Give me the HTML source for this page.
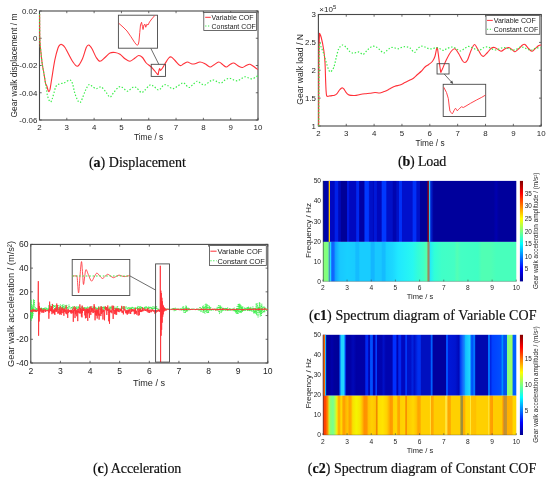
<!DOCTYPE html>
<html lang="en"><head><meta charset="utf-8"><title>Gear walk figure</title>
<style>html,body{margin:0;padding:0;background:#fff;overflow:hidden}svg{display:block}</style></head>
<body>
<svg width="550" height="480" viewBox="0 0 550 480">
<rect width="550" height="480" fill="#fff"/>
<rect x="39.5" y="11" width="218.5" height="109" fill="none" stroke="#484848" stroke-width="1.1"/>
<path d="M39.50,120v-2.2M39.50,11v2.2M66.81,120v-2.2M66.81,11v2.2M94.12,120v-2.2M94.12,11v2.2M121.44,120v-2.2M121.44,11v2.2M148.75,120v-2.2M148.75,11v2.2M176.06,120v-2.2M176.06,11v2.2M203.38,120v-2.2M203.38,11v2.2M230.69,120v-2.2M230.69,11v2.2M258.00,120v-2.2M258.00,11v2.2M39.5,11.00h2.2M258,11.00h-2.2M39.5,38.25h2.2M258,38.25h-2.2M39.5,65.50h2.2M258,65.50h-2.2M39.5,92.75h2.2M258,92.75h-2.2M39.5,120.00h2.2M258,120.00h-2.2" stroke="#484848" stroke-width="0.8" fill="none"/>
<path d="M39.60,14.00C39.62,16.67 39.65,25.43 39.70,30.00C39.75,34.57 39.68,37.57 39.90,41.40C40.12,45.23 40.60,49.18 41.00,53.00C41.40,56.82 41.80,60.80 42.30,64.30C42.80,67.80 43.47,70.88 44.00,74.00C44.53,77.12 45.12,81.17 45.50,83.00C45.88,84.83 46.07,84.47 46.30,85.00C46.53,85.53 46.62,85.37 46.90,86.20C47.18,87.03 47.65,89.10 48.00,90.00C48.35,90.90 48.67,91.68 49.00,91.60C49.33,91.52 49.55,91.60 50.00,89.50C50.45,87.40 50.90,83.88 51.70,79.00C52.50,74.12 53.75,65.37 54.80,60.20C55.85,55.03 57.10,50.58 58.00,48.00C58.90,45.42 59.58,45.28 60.20,44.70C60.82,44.12 60.90,44.03 61.70,44.50C62.50,44.97 63.20,44.71 65.00,47.50C66.80,50.29 70.42,58.12 72.50,61.25C74.58,64.38 75.83,66.67 77.50,66.25C79.17,65.83 81.04,61.88 82.50,58.75C83.96,55.62 85.21,49.79 86.25,47.50C87.29,45.21 87.79,44.79 88.75,45.00C89.71,45.21 90.75,46.67 92.00,48.75C93.25,50.83 94.92,55.42 96.25,57.50C97.58,59.58 98.54,61.25 100.00,61.25C101.46,61.25 103.33,58.88 105.00,57.50C106.67,56.12 108.33,53.83 110.00,53.00C111.67,52.17 113.33,52.29 115.00,52.50C116.67,52.71 118.33,53.21 120.00,54.25C121.67,55.29 123.33,57.58 125.00,58.75C126.67,59.92 128.33,61.38 130.00,61.25C131.67,61.12 133.54,58.96 135.00,58.00C136.46,57.04 137.50,55.58 138.75,55.50C140.00,55.42 141.25,56.25 142.50,57.50C143.75,58.75 144.79,61.42 146.25,63.00C147.71,64.58 149.79,65.62 151.25,67.00C152.71,68.38 153.88,69.92 155.00,71.25C156.12,72.58 157.50,74.38 158.00,75.00" fill="none" stroke="#ff3038" stroke-width="1.1" stroke-linejoin="round"/>
<path d="M158.00,75.00C158.25,73.96 159.08,69.50 159.50,68.75C159.92,68.00 160.00,70.62 160.50,70.50C161.00,70.38 161.75,69.12 162.50,68.00C163.25,66.88 163.96,65.42 165.00,63.75C166.04,62.08 167.71,59.12 168.75,58.00C169.79,56.88 170.21,56.58 171.25,57.00C172.29,57.42 173.54,59.08 175.00,60.50C176.46,61.92 178.54,64.96 180.00,65.50C181.46,66.04 182.50,64.33 183.75,63.75C185.00,63.17 186.25,62.00 187.50,62.00C188.75,62.00 190.00,63.46 191.25,63.75C192.50,64.04 193.54,64.04 195.00,63.75C196.46,63.46 198.33,62.00 200.00,62.00C201.67,62.00 203.33,62.92 205.00,63.75C206.67,64.58 208.54,66.79 210.00,67.00C211.46,67.21 212.29,65.83 213.75,65.00C215.21,64.17 217.29,62.08 218.75,62.00C220.21,61.92 221.25,63.67 222.50,64.50C223.75,65.33 225.00,67.00 226.25,67.00C227.50,67.00 228.75,65.17 230.00,64.50C231.25,63.83 232.29,62.71 233.75,63.00C235.21,63.29 237.29,65.50 238.75,66.25C240.21,67.00 241.25,67.62 242.50,67.50C243.75,67.38 245.00,66.04 246.25,65.50C247.50,64.96 248.54,63.92 250.00,64.25C251.46,64.58 253.70,66.62 255.00,67.50C256.30,68.38 257.33,69.17 257.80,69.50" fill="none" stroke="#ff3038" stroke-width="1.1" stroke-linejoin="round"/>
<path d="M39.60,14.00C39.62,16.67 39.65,25.43 39.70,30.00C39.75,34.57 39.68,37.57 39.90,41.40C40.12,45.23 40.60,49.18 41.00,53.00C41.40,56.82 41.80,60.80 42.30,64.30C42.80,67.80 43.47,70.88 44.00,74.00C44.53,77.12 45.08,80.42 45.50,83.00C45.92,85.58 46.17,87.40 46.50,89.50C46.83,91.60 47.05,93.77 47.50,95.60C47.95,97.43 48.67,99.45 49.20,100.50C49.73,101.55 50.20,102.15 50.70,101.90C51.20,101.65 51.68,100.40 52.20,99.00C52.72,97.60 53.18,95.58 53.80,93.50C54.42,91.42 55.03,88.07 55.90,86.50C56.77,84.93 57.78,84.67 59.00,84.10C60.22,83.53 62.20,83.37 63.20,83.10C64.20,82.83 63.87,83.02 65.00,82.50C66.13,81.98 68.75,79.83 70.00,80.00C71.25,80.17 71.75,81.50 72.50,83.50C73.25,85.50 73.75,89.42 74.50,92.00C75.25,94.58 76.32,97.37 77.00,99.00C77.68,100.63 78.10,101.22 78.60,101.80C79.10,102.38 79.52,102.72 80.00,102.50C80.48,102.28 80.67,102.33 81.50,100.50C82.33,98.67 84.00,93.83 85.00,91.50C86.00,89.17 86.75,87.67 87.50,86.50C88.25,85.33 88.67,84.50 89.50,84.50C90.33,84.50 91.38,85.79 92.50,86.50C93.62,87.21 94.79,88.67 96.25,88.75C97.71,88.83 99.58,86.38 101.25,87.00C102.92,87.62 104.79,90.83 106.25,92.50C107.71,94.17 108.75,97.00 110.00,97.00C111.25,97.00 112.29,94.17 113.75,92.50C115.21,90.83 117.29,87.83 118.75,87.00C120.21,86.17 121.04,86.79 122.50,87.50C123.96,88.21 125.83,91.25 127.50,91.25C129.17,91.25 131.04,88.12 132.50,87.50C133.96,86.88 134.79,86.67 136.25,87.50C137.71,88.33 139.79,92.08 141.25,92.50C142.71,92.92 143.54,91.25 145.00,90.00C146.46,88.75 148.54,85.62 150.00,85.00C151.46,84.38 152.29,85.42 153.75,86.25C155.21,87.08 157.08,90.21 158.75,90.00C160.42,89.79 162.29,85.75 163.75,85.00C165.21,84.25 166.04,84.88 167.50,85.50C168.96,86.12 170.83,88.62 172.50,88.75C174.17,88.88 175.83,87.21 177.50,86.25C179.17,85.29 181.25,83.42 182.50,83.00C183.75,82.58 183.96,83.00 185.00,83.75C186.04,84.50 187.50,87.29 188.75,87.50C190.00,87.71 191.12,86.04 192.50,85.00C193.88,83.96 195.54,81.46 197.00,81.25C198.46,81.04 199.92,83.12 201.25,83.75C202.58,84.38 203.54,85.42 205.00,85.00C206.46,84.58 208.54,82.08 210.00,81.25C211.46,80.42 212.50,79.88 213.75,80.00C215.00,80.12 216.25,81.50 217.50,82.00C218.75,82.50 220.00,83.33 221.25,83.00C222.50,82.67 223.62,80.79 225.00,80.00C226.38,79.21 228.04,78.25 229.50,78.25C230.96,78.25 232.42,79.58 233.75,80.00C235.08,80.42 236.25,80.96 237.50,80.75C238.75,80.54 240.00,79.42 241.25,78.75C242.50,78.08 243.75,76.88 245.00,76.75C246.25,76.62 247.50,77.67 248.75,78.00C250.00,78.33 251.25,78.96 252.50,78.75C253.75,78.54 255.37,77.29 256.25,76.75C257.13,76.21 257.54,75.71 257.80,75.50" fill="none" stroke="#38ee48" stroke-width="1.2" stroke-dasharray="1.4,1.8"/>
<rect x="151.2" y="64.3" width="14.3" height="12.1" fill="none" stroke="#484848" stroke-width="0.9"/>
<line x1="150.8" y1="48.3" x2="158.8" y2="64.3" stroke="#484848" stroke-width="0.8"/>
<rect x="118.4" y="15.2" width="39.1" height="33" fill="#fff" stroke="#484848" stroke-width="0.9"/>
<polyline points="118.80,23.30 123.00,27.00 127.00,31.00 131.00,36.80 134.50,42.25 136.30,44.60 137.50,45.25 138.40,44.00 139.00,41.00 139.75,32.50 140.50,25.00 141.55,22.30 142.45,26.50 143.05,29.50 143.95,25.00 145.00,24.25 145.75,27.25 146.80,24.25 148.00,25.00 149.50,22.00 151.75,19.00 154.75,15.50" fill="none" stroke="#ff3038" stroke-width="0.9" stroke-linejoin="round"/>
<rect x="203.8" y="12.4" width="52.60" height="18.10" fill="#fff" stroke="#484848" stroke-width="0.8"/>
<line x1="205.2" y1="17.3" x2="210.8" y2="17.3" stroke="#ff3038" stroke-width="1"/>
<line x1="205.2" y1="26.0" x2="210.8" y2="26.0" stroke="#38ee48" stroke-width="1.1" stroke-dasharray="1.2,1.6"/>
<text x="211.60" y="19.93" font-family='"Liberation Sans", Arial, sans-serif' font-size="7.1" text-anchor="start" fill="#202020" textLength="42" lengthAdjust="spacingAndGlyphs">Variable COF</text>
<text x="211.60" y="28.63" font-family='"Liberation Sans", Arial, sans-serif' font-size="7.1" text-anchor="start" fill="#202020" textLength="44.2" lengthAdjust="spacingAndGlyphs">Constant COF</text>
<text x="39.50" y="130.10" font-family='"Liberation Sans", Arial, sans-serif' font-size="7.9" text-anchor="middle" fill="#262626" >2</text>
<text x="66.81" y="130.10" font-family='"Liberation Sans", Arial, sans-serif' font-size="7.9" text-anchor="middle" fill="#262626" >3</text>
<text x="94.12" y="130.10" font-family='"Liberation Sans", Arial, sans-serif' font-size="7.9" text-anchor="middle" fill="#262626" >4</text>
<text x="121.44" y="130.10" font-family='"Liberation Sans", Arial, sans-serif' font-size="7.9" text-anchor="middle" fill="#262626" >5</text>
<text x="148.75" y="130.10" font-family='"Liberation Sans", Arial, sans-serif' font-size="7.9" text-anchor="middle" fill="#262626" >6</text>
<text x="176.06" y="130.10" font-family='"Liberation Sans", Arial, sans-serif' font-size="7.9" text-anchor="middle" fill="#262626" >7</text>
<text x="203.38" y="130.10" font-family='"Liberation Sans", Arial, sans-serif' font-size="7.9" text-anchor="middle" fill="#262626" >8</text>
<text x="230.69" y="130.10" font-family='"Liberation Sans", Arial, sans-serif' font-size="7.9" text-anchor="middle" fill="#262626" >9</text>
<text x="258.00" y="130.10" font-family='"Liberation Sans", Arial, sans-serif' font-size="7.9" text-anchor="middle" fill="#262626" >10</text>
<text x="37.30" y="13.80" font-family='"Liberation Sans", Arial, sans-serif' font-size="7.9" text-anchor="end" fill="#262626" >0.02</text>
<text x="37.30" y="41.05" font-family='"Liberation Sans", Arial, sans-serif' font-size="7.9" text-anchor="end" fill="#262626" >0</text>
<text x="37.30" y="68.30" font-family='"Liberation Sans", Arial, sans-serif' font-size="7.9" text-anchor="end" fill="#262626" >-0.02</text>
<text x="37.30" y="95.55" font-family='"Liberation Sans", Arial, sans-serif' font-size="7.9" text-anchor="end" fill="#262626" >-0.04</text>
<text x="37.30" y="122.80" font-family='"Liberation Sans", Arial, sans-serif' font-size="7.9" text-anchor="end" fill="#262626" >-0.06</text>
<text x="148.60" y="139.80" font-family='"Liberation Sans", Arial, sans-serif' font-size="8.3" text-anchor="middle" fill="#262626" >Time / s</text>
<text transform="translate(17.30,65.50) rotate(-90)" font-family='"Liberation Sans", Arial, sans-serif' font-size="8.3" text-anchor="middle" fill="#262626" textLength="104" lengthAdjust="spacingAndGlyphs">Gear walk displacement / m</text>
<rect x="318.4" y="14.5" width="222.80000000000007" height="111.5" fill="none" stroke="#484848" stroke-width="1.1"/>
<path d="M318.40,126v-2.2M318.40,14.5v2.2M346.25,126v-2.2M346.25,14.5v2.2M374.10,126v-2.2M374.10,14.5v2.2M401.95,126v-2.2M401.95,14.5v2.2M429.80,126v-2.2M429.80,14.5v2.2M457.65,126v-2.2M457.65,14.5v2.2M485.50,126v-2.2M485.50,14.5v2.2M513.35,126v-2.2M513.35,14.5v2.2M541.20,126v-2.2M541.20,14.5v2.2M318.4,14.50h2.2M541.2,14.50h-2.2M318.4,42.38h2.2M541.2,42.38h-2.2M318.4,70.25h2.2M541.2,70.25h-2.2M318.4,98.12h2.2M541.2,98.12h-2.2M318.4,126.00h2.2M541.2,126.00h-2.2" stroke="#484848" stroke-width="0.8" fill="none"/>
<path d="M318.70,126.00C318.73,115.00 318.77,75.46 318.90,60.00C319.03,44.54 319.40,37.71 319.50,33.25L319.50,33.25C319.79,33.96 320.54,34.71 321.25,37.50C321.96,40.29 323.12,45.83 323.75,50.00C324.38,54.17 324.69,57.50 325.00,62.50C325.31,67.50 325.42,75.25 325.60,80.00C325.78,84.75 325.93,88.40 326.10,91.00C326.27,93.60 326.40,94.72 326.60,95.60C326.80,96.48 326.98,96.20 327.30,96.30C327.62,96.40 328.05,96.27 328.50,96.20C328.95,96.13 329.42,96.00 330.00,95.90C330.58,95.80 331.25,95.70 332.00,95.60C332.75,95.50 333.67,95.63 334.50,95.30C335.33,94.97 336.17,94.48 337.00,93.60C337.83,92.72 338.78,90.90 339.50,90.00C340.22,89.10 340.78,88.53 341.30,88.20C341.82,87.87 342.15,87.83 342.60,88.00C343.05,88.17 343.43,88.48 344.00,89.20C344.57,89.92 345.25,91.38 346.00,92.30C346.75,93.22 347.67,94.18 348.50,94.70C349.33,95.22 349.92,95.27 351.00,95.40C352.08,95.53 353.50,95.65 355.00,95.50C356.50,95.35 358.33,94.79 360.00,94.50C361.67,94.21 363.33,93.96 365.00,93.75C366.67,93.54 368.33,93.46 370.00,93.25C371.67,93.04 373.33,92.54 375.00,92.50C376.67,92.46 378.33,93.21 380.00,93.00C381.67,92.79 383.33,91.96 385.00,91.25C386.67,90.54 388.33,89.58 390.00,88.75C391.67,87.92 393.33,86.88 395.00,86.25C396.67,85.62 398.33,85.62 400.00,85.00C401.67,84.38 403.33,83.33 405.00,82.50C406.67,81.67 408.54,80.75 410.00,80.00C411.46,79.25 412.50,78.92 413.75,78.00C415.00,77.08 416.25,75.62 417.50,74.50C418.75,73.38 420.00,72.50 421.25,71.25C422.50,70.00 423.75,68.12 425.00,67.00C426.25,65.88 427.50,65.46 428.75,64.50C430.00,63.54 431.46,62.62 432.50,61.25C433.54,59.88 434.25,58.54 435.00,56.25C435.75,53.96 436.46,47.92 437.00,47.50C437.54,47.08 437.83,51.04 438.25,53.75C438.67,56.46 439.08,60.62 439.50,63.75C439.92,66.88 440.54,71.04 440.75,72.50" fill="none" stroke="#ff3038" stroke-width="1.1" stroke-linejoin="round"/>
<path d="M440.75,72.50C441.04,71.88 441.58,70.83 442.50,68.75C443.42,66.67 444.79,62.92 446.25,60.00C447.71,57.08 449.79,53.12 451.25,51.25C452.71,49.38 453.75,48.33 455.00,48.75C456.25,49.17 457.50,51.75 458.75,53.75C460.00,55.75 461.46,59.29 462.50,60.75C463.54,62.21 464.17,62.62 465.00,62.50C465.83,62.38 466.46,62.08 467.50,60.00C468.54,57.92 470.08,52.58 471.25,50.00C472.42,47.42 473.46,44.71 474.50,44.50C475.54,44.29 476.38,47.00 477.50,48.75C478.62,50.50 480.21,53.75 481.25,55.00C482.29,56.25 482.71,56.67 483.75,56.25C484.79,55.83 486.25,53.83 487.50,52.50C488.75,51.17 490.08,49.08 491.25,48.25C492.42,47.42 493.25,47.21 494.50,47.50C495.75,47.79 497.62,49.38 498.75,50.00C499.88,50.62 500.21,51.46 501.25,51.25C502.29,51.04 503.75,49.38 505.00,48.75C506.25,48.12 507.50,47.29 508.75,47.50C510.00,47.71 511.46,49.29 512.50,50.00C513.54,50.71 513.96,51.96 515.00,51.75C516.04,51.54 517.50,49.88 518.75,48.75C520.00,47.62 521.46,45.71 522.50,45.00C523.54,44.29 523.96,43.88 525.00,44.50C526.04,45.12 527.58,47.62 528.75,48.75C529.92,49.88 530.96,51.25 532.00,51.25C533.04,51.25 533.88,49.71 535.00,48.75C536.12,47.79 537.72,46.12 538.75,45.50C539.78,44.88 540.79,45.08 541.20,45.00" fill="none" stroke="#ff3038" stroke-width="1.1" stroke-linejoin="round"/>
<path d="M318.80,126.00C318.83,118.33 318.88,93.50 319.00,80.00C319.12,66.50 319.12,50.42 319.50,45.00C319.88,39.58 320.54,46.04 321.25,47.50C321.96,48.96 322.92,51.25 323.75,53.75C324.58,56.25 325.42,59.79 326.25,62.50C327.08,65.21 328.04,68.46 328.75,70.00C329.46,71.54 329.67,72.17 330.50,71.75C331.33,71.33 332.79,69.88 333.75,67.50C334.71,65.12 335.42,60.62 336.25,57.50C337.08,54.38 337.71,50.83 338.75,48.75C339.79,46.67 341.25,45.21 342.50,45.00C343.75,44.79 345.00,46.38 346.25,47.50C347.50,48.62 348.75,50.79 350.00,51.75C351.25,52.71 352.50,53.21 353.75,53.25C355.00,53.29 356.46,52.12 357.50,52.00C358.54,51.88 359.08,52.08 360.00,52.50C360.92,52.92 361.96,54.71 363.00,54.50C364.04,54.29 365.29,52.21 366.25,51.25C367.21,50.29 367.71,49.58 368.75,48.75C369.79,47.92 371.25,46.54 372.50,46.25C373.75,45.96 375.00,46.38 376.25,47.00C377.50,47.62 378.75,49.00 380.00,50.00C381.25,51.00 382.50,53.00 383.75,53.00C385.00,53.00 386.25,50.92 387.50,50.00C388.75,49.08 390.00,47.83 391.25,47.50C392.50,47.17 393.75,47.79 395.00,48.00C396.25,48.21 397.50,48.92 398.75,48.75C400.00,48.58 401.25,47.33 402.50,47.00C403.75,46.67 405.00,46.58 406.25,46.75C407.50,46.92 408.62,47.04 410.00,48.00C411.38,48.96 413.25,52.38 414.50,52.50C415.75,52.62 416.38,49.79 417.50,48.75C418.62,47.71 420.00,46.54 421.25,46.25C422.50,45.96 423.75,46.58 425.00,47.00C426.25,47.42 427.50,48.46 428.75,48.75C430.00,49.04 431.25,48.96 432.50,48.75C433.75,48.54 435.00,47.50 436.25,47.50C437.50,47.50 438.75,48.25 440.00,48.75C441.25,49.25 442.58,50.54 443.75,50.50C444.92,50.46 445.62,49.08 447.00,48.50C448.38,47.92 450.50,47.00 452.00,47.00C453.50,47.00 454.67,47.83 456.00,48.50C457.33,49.17 458.67,50.92 460.00,51.00C461.33,51.08 462.67,49.75 464.00,49.00C465.33,48.25 466.67,46.75 468.00,46.50C469.33,46.25 470.67,47.00 472.00,47.50C473.33,48.00 474.67,49.08 476.00,49.50C477.33,49.92 478.67,50.33 480.00,50.00C481.33,49.67 482.67,48.00 484.00,47.50C485.33,47.00 486.67,46.75 488.00,47.00C489.33,47.25 490.67,48.50 492.00,49.00C493.33,49.50 494.67,50.08 496.00,50.00C497.33,49.92 498.67,48.92 500.00,48.50C501.33,48.08 502.67,47.50 504.00,47.50C505.33,47.50 506.67,48.08 508.00,48.50C509.33,48.92 510.67,49.83 512.00,50.00C513.33,50.17 514.67,50.00 516.00,49.50C517.33,49.00 518.67,47.33 520.00,47.00C521.33,46.67 522.67,47.08 524.00,47.50C525.33,47.92 526.67,49.08 528.00,49.50C529.33,49.92 530.67,50.25 532.00,50.00C533.33,49.75 534.47,48.33 536.00,48.00C537.53,47.67 540.33,48.00 541.20,48.00" fill="none" stroke="#38ee48" stroke-width="1.2" stroke-dasharray="1.4,1.8"/>
<rect x="437.05" y="63.7" width="12" height="10.3" fill="none" stroke="#484848" stroke-width="0.9"/>
<line x1="444.2" y1="74" x2="452.2" y2="82.8" stroke="#484848" stroke-width="0.8"/>
<path d="M453.2,84l-3.2,-1.4l2.2,-2z" fill="#484848"/>
<rect x="443.2" y="84.3" width="42.5" height="32.2" fill="#fff" stroke="#484848" stroke-width="0.9"/>
<polyline points="443.80,87.25 445.20,90.00 446.50,92.50 448.30,98.50 449.20,106.00 449.95,111.25 451.00,112.30 452.20,113.80 453.10,112.50 454.00,110.50 455.50,108.25 456.40,109.30 457.30,110.80 458.30,109.70 459.25,108.70 461.50,106.75 463.30,107.50 466.00,106.00 470.50,103.30 476.50,100.00 481.75,97.30 485.30,95.20" fill="none" stroke="#ff3038" stroke-width="0.9" stroke-linejoin="round"/>
<rect x="486.0" y="15.6" width="53.80" height="18.70" fill="#fff" stroke="#484848" stroke-width="0.8"/>
<line x1="487" y1="20.4" x2="492.8" y2="20.4" stroke="#ff3038" stroke-width="1"/>
<line x1="487" y1="29.2" x2="492.8" y2="29.2" stroke="#38ee48" stroke-width="1.1" stroke-dasharray="1.2,1.6"/>
<text x="493.80" y="23.03" font-family='"Liberation Sans", Arial, sans-serif' font-size="7.1" text-anchor="start" fill="#202020" textLength="42" lengthAdjust="spacingAndGlyphs">Variable COF</text>
<text x="493.80" y="31.83" font-family='"Liberation Sans", Arial, sans-serif' font-size="7.1" text-anchor="start" fill="#202020" textLength="44.4" lengthAdjust="spacingAndGlyphs">Constant COF</text>
<text x="318.40" y="136.10" font-family='"Liberation Sans", Arial, sans-serif' font-size="7.9" text-anchor="middle" fill="#262626" >2</text>
<text x="346.25" y="136.10" font-family='"Liberation Sans", Arial, sans-serif' font-size="7.9" text-anchor="middle" fill="#262626" >3</text>
<text x="374.10" y="136.10" font-family='"Liberation Sans", Arial, sans-serif' font-size="7.9" text-anchor="middle" fill="#262626" >4</text>
<text x="401.95" y="136.10" font-family='"Liberation Sans", Arial, sans-serif' font-size="7.9" text-anchor="middle" fill="#262626" >5</text>
<text x="429.80" y="136.10" font-family='"Liberation Sans", Arial, sans-serif' font-size="7.9" text-anchor="middle" fill="#262626" >6</text>
<text x="457.65" y="136.10" font-family='"Liberation Sans", Arial, sans-serif' font-size="7.9" text-anchor="middle" fill="#262626" >7</text>
<text x="485.50" y="136.10" font-family='"Liberation Sans", Arial, sans-serif' font-size="7.9" text-anchor="middle" fill="#262626" >8</text>
<text x="513.35" y="136.10" font-family='"Liberation Sans", Arial, sans-serif' font-size="7.9" text-anchor="middle" fill="#262626" >9</text>
<text x="541.20" y="136.10" font-family='"Liberation Sans", Arial, sans-serif' font-size="7.9" text-anchor="middle" fill="#262626" >10</text>
<text x="316.00" y="17.30" font-family='"Liberation Sans", Arial, sans-serif' font-size="7.9" text-anchor="end" fill="#262626" >3</text>
<text x="316.00" y="45.17" font-family='"Liberation Sans", Arial, sans-serif' font-size="7.9" text-anchor="end" fill="#262626" >2.5</text>
<text x="316.00" y="73.05" font-family='"Liberation Sans", Arial, sans-serif' font-size="7.9" text-anchor="end" fill="#262626" >2</text>
<text x="316.00" y="100.92" font-family='"Liberation Sans", Arial, sans-serif' font-size="7.9" text-anchor="end" fill="#262626" >1.5</text>
<text x="316.00" y="128.80" font-family='"Liberation Sans", Arial, sans-serif' font-size="7.9" text-anchor="end" fill="#262626" >1</text>
<text x="430.00" y="146.40" font-family='"Liberation Sans", Arial, sans-serif' font-size="8.3" text-anchor="middle" fill="#262626" >Time / s</text>
<text transform="translate(302.90,69.40) rotate(-90)" font-family='"Liberation Sans", Arial, sans-serif' font-size="8.6" text-anchor="middle" fill="#262626" >Gear walk load / N</text>
<text x="319.3" y="12.3" font-family='"Liberation Sans", Arial, sans-serif' font-size="8" fill="#262626">×10<tspan dy="-3" font-size="6">5</tspan></text>
<rect x="30.8" y="244.4" width="237.0" height="118.6" fill="none" stroke="#484848" stroke-width="1.1"/>
<path d="M30.80,363v-2.2M30.80,244.4v2.2M60.42,363v-2.2M60.42,244.4v2.2M90.05,363v-2.2M90.05,244.4v2.2M119.67,363v-2.2M119.67,244.4v2.2M149.30,363v-2.2M149.30,244.4v2.2M178.93,363v-2.2M178.93,244.4v2.2M208.55,363v-2.2M208.55,244.4v2.2M238.18,363v-2.2M238.18,244.4v2.2M267.80,363v-2.2M267.80,244.4v2.2M30.8,244.40h2.2M267.8,244.40h-2.2M30.8,268.12h2.2M267.8,268.12h-2.2M30.8,291.84h2.2M267.8,291.84h-2.2M30.8,315.56h2.2M267.8,315.56h-2.2M30.8,339.28h2.2M267.8,339.28h-2.2M30.8,363.00h2.2M267.8,363.00h-2.2" stroke="#484848" stroke-width="0.8" fill="none"/>
<polyline points="30.80,312.58 31.01,318.98 31.21,299.89 31.42,320.59 31.63,304.27 31.84,309.78 32.04,318.90 32.25,305.27 32.46,317.99 32.67,307.16 32.87,315.68 33.08,314.51 33.29,307.02 33.50,299.35 33.70,311.90 33.91,309.75 34.12,303.73 34.33,300.06 34.53,304.67 34.74,306.39 34.95,307.23 35.15,310.76 35.36,307.68 35.57,309.84 35.78,310.39 35.98,310.49 36.19,309.76 36.40,307.84 36.61,310.25 36.81,308.73 37.02,308.51 37.23,309.52 37.44,308.86 37.64,310.70 37.85,310.71 38.06,310.15 38.27,308.35 38.47,309.31 38.68,309.74 38.89,308.71 39.10,309.21 39.30,309.80 39.51,307.92 39.72,308.28 39.92,310.01 40.13,308.75 40.34,308.94 40.55,307.61 40.75,308.17 40.96,309.84 41.17,307.21 41.38,310.49 41.58,309.35 41.79,308.06 42.00,310.36 42.21,309.08 42.41,310.79 42.62,308.40 42.83,308.03 43.04,308.76 43.24,307.61 43.45,309.74 43.66,308.30 43.86,308.68 44.07,308.73 44.28,309.20 44.49,307.75 44.69,307.35 44.90,309.14 45.11,308.41 45.32,310.70 45.52,308.27 45.73,308.48 45.94,307.17 46.15,307.82 46.35,309.85 46.56,309.47 46.77,308.40 46.98,310.85 47.18,309.18 47.39,310.30 47.60,310.49 47.80,310.71 48.01,308.02 48.22,310.44 48.43,309.99 48.63,307.88 48.84,305.14 49.05,309.65 49.26,307.55 49.46,306.98 49.67,305.08 49.88,305.44 50.09,305.19 50.29,308.52 50.50,307.74 50.71,308.06 50.92,305.07 51.12,304.65 51.33,309.25 51.54,309.10 51.74,308.78 51.95,308.78 52.16,307.34 52.37,306.75 52.57,308.61 52.78,310.08 52.99,307.72 53.20,308.00 53.40,306.88 53.61,304.68 53.82,306.17 54.03,307.17 54.23,306.59 54.44,306.25 54.65,309.80 54.86,304.98 55.06,305.66 55.27,305.13 55.48,305.56 55.69,307.87 55.89,307.83 56.10,309.51 56.31,306.49 56.51,309.75 56.72,309.72 56.93,308.92 57.14,309.18 57.34,308.17 57.55,309.81 57.76,310.10 57.97,309.24 58.17,309.53 58.38,308.03 58.59,309.96 58.80,305.13 59.00,306.61 59.21,309.26 59.42,308.67 59.63,308.13 59.83,308.03 60.04,309.41 60.25,305.27 60.45,304.45 60.66,307.45 60.87,307.35 61.08,309.62 61.28,309.52 61.49,308.15 61.70,308.60 61.91,305.39 62.11,309.19 62.32,309.97 62.53,304.69 62.74,307.10 62.94,309.27 63.15,307.01 63.36,309.95 63.57,307.10 63.77,304.53 63.98,305.19 64.19,306.14 64.39,308.62 64.60,308.02 64.81,309.15 65.02,305.71 65.22,307.07 65.43,305.67 65.64,308.23 65.85,308.83 66.05,305.48 66.26,304.50 66.47,305.25 66.68,305.52 66.88,305.45 67.09,305.89 67.30,308.81 67.51,307.16 67.71,308.08 67.92,309.94 68.13,309.95 68.33,308.51 68.54,308.63 68.75,306.16 68.96,304.66 69.16,307.56 69.37,306.53 69.58,306.35 69.79,306.47 69.99,308.57 70.20,309.08 70.41,309.06 70.62,309.17 70.82,309.14 71.03,307.65 71.24,306.66 71.45,306.88 71.65,308.16 71.86,307.54 72.07,307.02 72.28,309.57 72.48,307.52 72.69,306.63 72.90,307.08 73.10,307.20 73.31,308.17 73.52,309.23 73.73,307.06 73.93,308.68 74.14,307.02 74.35,306.41 74.56,308.46 74.76,308.44 74.97,306.50 75.18,307.29 75.39,309.26 75.59,309.42 75.80,309.33 76.01,306.65 76.22,307.00 76.42,309.35 76.63,306.93 76.84,306.38 77.04,307.53 77.25,308.62 77.46,307.92 77.67,309.40 77.87,309.82 78.08,306.41 78.29,307.56 78.50,307.99 78.70,306.55 78.91,308.32 79.12,306.77 79.33,306.93 79.53,309.12 79.74,308.97 79.95,308.82 80.16,309.01 80.36,307.78 80.57,308.94 80.78,308.38 80.98,309.40 81.19,306.63 81.40,308.61 81.61,308.24 81.81,307.79 82.02,306.65 82.23,308.37 82.44,306.60 82.64,308.08 82.85,307.97 83.06,308.00 83.27,309.80 83.47,308.30 83.68,309.22 83.89,309.85 84.10,307.02 84.30,309.25 84.51,308.18 84.72,307.29 84.92,307.89 85.13,308.71 85.34,308.02 85.55,307.89 85.75,307.08 85.96,309.49 86.17,307.87 86.38,308.98 86.58,308.88 86.79,307.12 87.00,308.06 87.21,307.87 87.41,307.16 87.62,306.62 87.83,308.29 88.04,307.69 88.24,308.07 88.45,308.04 88.66,307.40 88.87,308.26 89.07,307.97 89.28,308.17 89.49,306.52 89.69,307.38 89.90,306.75 90.11,306.51 90.32,308.94 90.52,307.88 90.73,306.51 90.94,306.88 91.15,309.38 91.35,309.43 91.56,308.29 91.77,309.61 91.98,309.01 92.18,309.61 92.39,307.49 92.60,307.08 92.81,306.68 93.01,309.32 93.22,307.32 93.43,307.52 93.63,309.36 93.84,306.73 94.05,306.42 94.26,309.09 94.46,306.48 94.67,308.45 94.88,308.13 95.09,306.35 95.29,306.91 95.50,309.29 95.71,308.33 95.92,308.03 96.12,308.66 96.33,309.17 96.54,308.73 96.75,307.30 96.95,309.80 97.16,307.90 97.37,308.30 97.57,309.80 97.78,308.69 97.99,307.65 98.20,308.04 98.40,309.64 98.61,306.36 98.82,307.06 99.03,306.41 99.23,309.49 99.44,308.92 99.65,309.73 99.86,307.10 100.06,308.90 100.27,309.41 100.48,308.36 100.69,306.62 100.89,306.95 101.10,308.95 101.31,309.34 101.51,306.60 101.72,307.84 101.93,307.38 102.14,309.55 102.34,309.66 102.55,307.42 102.76,308.35 102.97,309.61 103.17,306.53 103.38,307.61 103.59,307.02 103.80,309.57 104.00,306.82 104.21,309.63 104.42,306.80 104.63,308.25 104.83,308.66 105.04,307.90 105.25,306.57 105.46,308.91 105.66,309.41 105.87,307.99 106.08,309.02 106.28,309.48 106.49,309.29 106.70,309.69 106.91,309.15 107.11,308.76 107.32,308.78 107.53,307.16 107.74,308.84 107.94,308.09 108.15,309.23 108.36,308.63 108.57,309.80 108.77,308.98 108.98,309.81 109.19,307.26 109.40,307.91 109.60,309.19 109.81,308.18 110.02,306.54 110.22,309.49 110.43,306.95 110.64,308.33 110.85,308.11 111.05,306.90 111.26,308.47 111.47,308.06 111.68,307.42 111.88,306.37 112.09,308.65 112.30,306.91 112.51,307.35 112.71,307.60 112.92,308.43 113.13,308.63 113.34,309.67 113.54,309.41 113.75,309.62 113.96,307.23 114.16,308.96 114.37,309.29 114.58,309.57 114.79,306.87 114.99,306.77 115.20,307.48 115.41,308.86 115.62,309.01 115.82,308.82 116.03,308.23 116.24,309.31 116.45,308.28 116.65,308.93 116.86,306.45 117.07,306.41 117.28,307.92 117.48,309.00 117.69,306.43 117.90,308.77 118.10,308.60 118.31,309.86 118.52,308.51 118.73,308.18 118.93,308.08 119.14,309.15 119.35,308.07 119.56,309.85 119.76,308.93 119.97,309.55 120.18,308.45 120.39,309.72 120.59,309.79 120.80,308.78 121.01,309.04 121.22,307.78 121.42,307.98 121.63,307.20 121.84,307.53 122.04,307.32 122.25,306.74 122.46,308.48 122.67,308.71 122.87,306.36 123.08,309.34 123.29,307.29 123.50,307.58 123.70,309.71 123.91,306.90 124.12,306.69 124.33,307.64 124.53,307.26 124.74,306.98 124.95,309.37 125.16,308.00 125.36,308.07 125.57,306.90 125.78,307.00 125.99,306.93 126.19,307.79 126.40,306.69 126.61,307.44 126.81,307.40 127.02,309.05 127.23,309.76 127.44,309.39 127.64,308.58 127.85,309.49 128.06,306.89 128.27,307.88 128.47,307.63 128.68,307.64 128.89,307.45 129.10,308.13 129.30,309.86 129.51,307.03 129.72,307.20 129.93,308.08 130.13,307.96 130.34,307.52 130.55,309.63 130.75,307.25 130.96,308.97 131.17,309.60 131.38,308.92 131.58,307.27 131.79,309.14 132.00,307.23 132.21,306.40 132.41,308.11 132.62,308.51 132.83,308.16 133.04,307.43 133.24,307.14 133.45,307.67 133.66,307.58 133.87,309.59 134.07,309.34 134.28,308.96 134.49,307.22 134.69,308.78 134.90,307.85 135.11,309.82 135.32,309.65 135.52,308.91 135.73,307.48 135.94,307.40 136.15,307.46 136.35,308.83 136.56,308.03 136.77,308.21 136.98,308.21 137.18,309.45 137.39,306.69 137.60,309.16 137.81,306.39 138.01,306.54 138.22,309.80 138.43,308.23 138.63,306.95 138.84,306.42 139.05,308.27 139.26,308.91 139.46,309.12 139.67,306.50 139.88,309.12 140.09,307.80 140.29,309.36 140.50,308.00 140.71,306.48 140.92,309.40 141.12,306.95 141.33,308.06 141.54,306.71 141.75,307.36 141.95,309.04 142.16,306.67 142.37,308.14 142.58,309.78 142.78,309.85 142.99,308.12 143.20,308.26 143.40,308.79 143.61,309.37 143.82,308.64 144.03,308.74 144.23,306.88 144.44,309.86 144.65,307.20 144.86,306.88 145.06,309.44 145.27,306.57 145.48,307.33 145.69,306.66 145.89,308.84 146.10,308.54 146.31,308.47 146.52,306.31 146.72,307.77 146.93,308.58 147.14,308.34 147.34,308.89 147.55,309.70 147.76,309.51 147.97,306.90 148.17,308.85 148.38,306.54 148.59,308.98 148.80,308.92 149.00,308.05 149.21,309.19 149.42,308.54 149.63,306.47 149.83,306.72 150.04,306.98 150.25,307.62 150.46,306.62 150.66,306.52 150.87,307.91 151.08,307.31 151.28,309.69 151.49,307.26 151.70,308.26 151.91,307.19 152.11,307.57 152.32,308.85 152.53,309.69 152.74,306.57 152.94,309.41 153.15,308.19 153.36,308.64 153.57,308.81 153.77,307.24 153.98,306.39 154.19,308.94 154.40,307.53 154.60,308.80 154.81,307.88 155.02,308.46 155.22,309.27 155.43,309.29 155.64,309.13 155.85,306.64 156.05,308.10 156.26,309.08 156.47,306.64 156.68,306.32 156.88,308.27 157.09,309.37 157.30,309.18 157.51,309.54 157.71,308.65 157.92,309.54 158.13,309.02 158.34,309.73 158.54,309.14 158.75,308.54 158.96,308.80 159.17,309.44 159.37,309.44 159.58,309.23 159.79,309.51 159.99,309.58 160.20,310.11 160.41,309.70 160.62,308.39 160.82,309.98 161.03,309.27 161.24,309.03 161.45,308.59 161.65,309.81 161.86,309.71 162.07,309.75 162.28,309.46 162.48,309.38 162.69,308.41 162.90,308.61 163.11,308.57 163.31,310.18 163.52,310.16 163.73,308.88 163.93,308.52 164.14,309.32 164.35,309.11 164.56,310.22 164.76,309.48 164.97,308.46 165.18,308.66 165.39,308.60 165.59,308.38 165.80,309.75 166.01,310.02 166.22,309.93 166.42,309.23 166.63,308.93 166.84,308.44 167.05,308.85 167.25,309.10 167.46,308.96 167.67,309.32 167.87,309.21 168.08,309.82 168.29,308.94 168.50,309.59 168.70,308.78 168.91,309.10 169.12,309.51 169.33,309.72 169.53,309.57 169.74,309.11 169.95,309.04 170.16,309.74 170.36,309.79 170.57,309.24 170.78,309.17 170.99,309.41 171.19,309.63 171.40,309.14 171.61,309.96 171.81,309.57 172.02,309.34 172.23,308.47 172.44,308.99 172.64,308.44 172.85,309.33 173.06,309.99 173.27,310.03 173.47,307.78 173.68,308.56 173.89,309.99 174.10,311.14 174.30,309.28 174.51,308.57 174.72,309.59 174.93,310.21 175.13,308.66 175.34,307.81 175.55,310.14 175.76,310.62 175.96,309.70 176.17,309.46 176.38,308.89 176.58,309.84 176.79,308.77 177.00,308.90 177.21,309.27 177.41,309.68 177.62,308.65 177.83,309.52 178.04,308.87 178.24,309.61 178.45,309.62 178.66,308.95 178.87,309.54 179.07,308.69 179.28,309.28 179.49,309.70 179.70,309.67 179.90,309.40 180.11,309.01 180.32,308.52 180.52,309.91 180.73,309.48 180.94,309.89 181.15,308.17 181.35,310.19 181.56,310.54 181.77,310.65 181.98,309.64 182.18,307.76 182.39,307.67 182.60,308.21 182.81,306.79 183.01,306.93 183.22,310.27 183.43,311.25 183.64,306.37 183.84,307.54 184.05,312.73 184.26,308.01 184.46,310.24 184.67,310.30 184.88,310.66 185.09,312.02 185.29,313.39 185.50,311.08 185.71,310.47 185.92,305.70 186.12,312.12 186.33,305.91 186.54,311.29 186.75,310.21 186.95,307.32 187.16,307.45 187.37,309.63 187.58,311.45 187.78,309.39 187.99,309.79 188.20,307.74 188.40,310.29 188.61,309.68 188.82,308.20 189.03,310.43 189.23,309.47 189.44,308.63 189.65,308.77 189.86,310.08 190.06,310.04 190.27,309.95 190.48,308.66 190.69,309.62 190.89,308.94 191.10,308.75 191.31,309.48 191.52,309.56 191.72,308.70 191.93,309.13 192.14,309.57 192.35,309.01 192.55,309.50 192.76,309.55 192.97,309.88 193.17,308.96 193.38,308.76 193.59,309.11 193.80,308.72 194.00,309.87 194.21,309.61 194.42,309.31 194.63,308.68 194.83,308.67 195.04,309.43 195.25,309.62 195.46,309.37 195.66,309.28 195.87,308.63 196.08,309.77 196.29,308.78 196.49,308.87 196.70,308.70 196.91,308.76 197.11,309.06 197.32,309.63 197.53,309.67 197.74,309.60 197.94,308.57 198.15,310.39 198.36,310.13 198.57,308.51 198.77,310.09 198.98,310.78 199.19,311.00 199.40,309.07 199.60,310.01 199.81,307.10 200.02,307.42 200.23,306.76 200.43,310.56 200.64,311.70 200.85,311.77 201.05,309.28 201.26,307.82 201.47,309.66 201.68,311.32 201.88,309.95 202.09,308.25 202.30,307.73 202.51,306.99 202.71,305.95 202.92,307.64 203.13,313.16 203.34,305.67 203.54,311.51 203.75,308.53 203.96,310.72 204.17,306.52 204.37,312.81 204.58,312.28 204.79,312.33 204.99,313.45 205.20,304.63 205.41,308.33 205.62,311.37 205.82,310.52 206.03,303.43 206.24,309.19 206.45,312.37 206.65,305.78 206.86,307.57 207.07,303.96 207.28,313.46 207.48,309.53 207.69,306.12 207.90,306.03 208.11,305.47 208.31,313.32 208.52,311.01 208.73,312.33 208.94,311.65 209.14,305.84 209.35,308.70 209.56,306.47 209.76,310.06 209.97,307.16 210.18,309.55 210.39,310.50 210.59,307.94 210.80,307.28 211.01,310.93 211.22,308.90 211.42,308.83 211.63,310.24 211.84,309.70 212.05,310.35 212.25,310.11 212.46,309.92 212.67,309.03 212.88,308.92 213.08,309.94 213.29,310.31 213.50,309.63 213.70,308.92 213.91,309.88 214.12,309.63 214.33,309.84 214.53,308.71 214.74,309.18 214.95,310.17 215.16,310.13 215.36,309.51 215.57,309.15 215.78,308.90 215.99,310.47 216.19,310.36 216.40,308.58 216.61,309.63 216.82,310.21 217.02,310.19 217.23,306.90 217.44,310.35 217.64,308.86 217.85,310.24 218.06,309.88 218.27,306.46 218.47,305.22 218.68,310.44 218.89,311.98 219.10,307.16 219.30,312.09 219.51,314.04 219.72,305.37 219.93,310.01 220.13,306.19 220.34,310.16 220.55,305.75 220.76,309.62 220.96,312.15 221.17,313.20 221.38,308.88 221.58,308.27 221.79,306.55 222.00,311.79 222.21,308.59 222.41,309.94 222.62,309.25 222.83,310.78 223.04,310.11 223.24,309.20 223.45,307.92 223.66,310.42 223.87,309.30 224.07,308.49 224.28,308.13 224.49,310.00 224.70,310.16 224.90,308.20 225.11,308.08 225.32,309.32 225.53,310.53 225.73,307.99 225.94,309.64 226.15,307.87 226.35,308.83 226.56,307.99 226.77,310.69 226.98,308.02 227.18,310.54 227.39,309.72 227.60,307.62 227.81,307.69 228.01,310.79 228.22,310.60 228.43,309.74 228.64,309.19 228.84,309.77 229.05,310.80 229.26,310.24 229.47,308.47 229.67,307.94 229.88,310.72 230.09,309.09 230.29,308.55 230.50,310.50 230.71,308.41 230.92,310.23 231.12,309.03 231.33,309.15 231.54,308.96 231.75,309.77 231.95,309.49 232.16,309.04 232.37,309.49 232.58,308.78 232.78,309.45 232.99,309.49 233.20,311.10 233.41,308.79 233.61,309.32 233.82,310.52 234.03,307.95 234.23,307.77 234.44,309.51 234.65,311.23 234.86,309.45 235.06,311.97 235.27,311.97 235.48,309.80 235.69,312.55 235.89,309.76 236.10,309.18 236.31,313.48 236.52,307.98 236.72,313.39 236.93,306.90 237.14,306.37 237.35,309.15 237.55,314.16 237.76,309.23 237.97,310.66 238.17,304.11 238.38,313.48 238.59,305.13 238.80,303.51 239.00,306.58 239.21,305.64 239.42,312.77 239.63,303.84 239.83,309.36 240.04,304.30 240.25,304.84 240.46,312.75 240.66,306.37 240.87,305.07 241.08,313.37 241.29,310.62 241.49,307.05 241.70,312.11 241.91,306.13 242.12,310.97 242.32,307.02 242.53,311.68 242.74,309.26 242.94,306.75 243.15,310.92 243.36,310.53 243.57,309.24 243.77,310.12 243.98,311.31 244.19,310.59 244.40,310.60 244.60,307.64 244.81,308.63 245.02,307.91 245.23,310.39 245.43,308.33 245.64,310.56 245.85,309.17 246.06,308.80 246.26,309.78 246.47,307.88 246.68,309.06 246.88,308.94 247.09,307.61 247.30,311.08 247.51,306.91 247.71,308.63 247.92,309.82 248.13,307.69 248.34,310.55 248.54,306.57 248.75,308.84 248.96,310.05 249.17,307.82 249.37,309.59 249.58,311.00 249.79,308.00 250.00,311.60 250.20,307.66 250.41,310.50 250.62,308.59 250.82,306.91 251.03,308.85 251.24,308.47 251.45,310.22 251.65,311.85 251.86,311.77 252.07,311.23 252.28,308.60 252.48,309.69 252.69,309.19 252.90,306.58 253.11,311.92 253.31,311.35 253.52,308.05 253.73,313.32 253.94,313.71 254.14,310.64 254.35,313.16 254.56,310.75 254.76,312.26 254.97,308.33 255.18,308.22 255.39,312.91 255.59,307.69 255.80,309.61 256.01,314.25 256.22,303.14 256.42,312.98 256.63,314.46 256.84,315.39 257.05,307.14 257.25,303.44 257.46,304.77 257.67,310.86 257.88,313.13 258.08,317.32 258.29,306.87 258.50,308.24 258.71,311.76 258.91,306.86 259.12,310.20 259.33,302.12 259.53,305.49 259.74,313.30 259.95,302.91 260.16,316.34 260.36,308.80 260.57,310.67 260.78,313.07 260.99,315.50 261.19,305.46 261.40,315.74 261.61,308.62 261.82,303.83 262.02,313.52 262.23,312.70 262.44,308.10 262.65,309.20 262.85,307.87 263.06,306.31 263.27,312.19 263.47,310.90 263.68,310.88 263.89,312.70 264.10,306.49 264.30,307.37 264.51,307.91 264.72,312.21 264.93,307.35 265.13,307.99 265.34,309.44 265.55,308.17 265.76,309.48 265.96,310.37 266.17,310.75 266.38,310.21 266.59,310.78 266.79,309.78 267.00,308.56 267.21,308.75 267.41,308.40 267.62,308.77" fill="none" stroke="#38ee48" stroke-width="0.85" stroke-dasharray="1.3,1.0"/>
<polyline points="30.80,310.91 30.99,309.92 31.19,311.97 31.38,310.33 31.57,311.37 31.76,310.90 31.96,311.97 32.15,312.25 32.34,310.51 32.53,309.38 32.73,310.27 32.92,310.76 33.11,310.71 33.30,309.65 33.50,309.71 33.69,311.22 33.88,311.50 34.07,309.52 34.27,311.07 34.46,310.35 34.65,309.98 34.84,311.37 35.04,311.19 35.23,311.80 35.42,310.02 35.61,310.92 35.81,310.23 36.00,311.75 36.19,310.34 36.38,311.41 36.58,310.96 36.77,311.73 36.96,310.99 37.15,310.36 37.35,311.02 37.54,311.02 37.73,310.48 37.92,311.03 38.06,303.70 38.32,281.17 38.59,335.72 38.86,302.51 39.12,321.49 39.39,306.07 39.66,314.37 39.92,308.44 40.19,309.70 40.38,310.63 40.58,309.02 40.77,311.64 40.96,310.52 41.15,310.46 41.35,308.16 41.54,310.14 41.73,312.50 41.92,312.61 42.12,310.86 42.31,311.34 42.50,311.91 42.69,311.48 42.89,309.86 43.08,312.84 43.27,310.49 43.46,311.07 43.66,309.22 43.85,312.50 44.04,310.37 44.23,310.97 44.43,310.69 44.62,310.40 44.81,309.19 45.01,310.47 45.20,310.38 45.39,311.83 45.58,310.33 45.78,311.73 45.97,310.89 46.16,310.51 46.35,309.90 46.55,310.18 46.74,310.66 46.93,310.30 47.12,310.93 47.32,310.76 47.51,310.84 47.70,310.36 47.89,310.93 48.09,311.32 48.28,311.40 48.47,309.61 48.66,309.15 48.86,318.72 49.05,310.55 49.24,312.66 49.43,309.98 49.63,301.60 49.82,309.46 50.01,310.80 50.20,308.47 50.40,310.75 50.59,309.87 50.78,308.66 50.97,311.14 51.17,305.99 51.36,311.56 51.55,308.43 51.74,306.80 51.94,314.17 52.13,312.46 52.32,309.64 52.52,303.93 52.71,310.60 52.90,312.79 53.09,310.83 53.29,313.22 53.48,310.21 53.67,311.95 53.86,312.30 54.06,309.18 54.25,313.29 54.44,314.04 54.63,309.51 54.83,314.89 55.02,309.82 55.21,311.82 55.40,307.84 55.60,309.97 55.79,309.55 55.98,309.86 56.17,309.29 56.37,310.94 56.56,311.74 56.75,303.51 56.94,311.18 57.14,309.86 57.33,305.00 57.52,308.83 57.71,310.39 57.91,313.67 58.10,310.82 58.29,312.45 58.48,312.06 58.68,313.20 58.87,309.69 59.06,310.38 59.25,307.62 59.45,312.03 59.64,314.57 59.83,312.49 60.03,310.32 60.22,306.31 60.41,313.94 60.60,312.79 60.80,309.79 60.99,312.92 61.18,314.96 61.37,310.46 61.57,312.79 61.76,308.36 61.95,310.22 62.14,308.54 62.34,307.29 62.53,311.31 62.72,313.18 62.91,312.87 63.11,311.10 63.30,311.62 63.49,312.66 63.68,308.94 63.88,315.75 64.07,308.72 64.26,310.64 64.45,311.76 64.65,309.55 64.84,308.52 65.03,311.73 65.22,311.90 65.42,309.94 65.61,309.77 65.80,313.48 65.99,310.04 66.19,305.68 66.38,309.26 66.57,314.19 66.76,311.81 66.96,311.13 67.15,309.88 67.34,312.10 67.53,311.97 67.73,317.91 67.92,310.76 68.11,309.11 68.31,312.74 68.50,313.06 68.69,310.39 68.88,311.36 69.08,310.58 69.27,311.90 69.46,310.51 69.65,310.79 69.85,310.82 70.04,309.88 70.23,310.51 70.42,312.65 70.62,310.50 70.81,312.00 71.00,310.23 71.19,313.75 71.39,310.11 71.58,311.95 71.77,310.93 71.96,312.98 72.16,310.95 72.35,309.35 72.54,308.70 72.73,310.00 72.93,313.33 73.12,310.79 73.31,321.81 73.50,310.30 73.70,312.30 73.89,309.33 74.08,306.50 74.27,311.18 74.47,309.17 74.66,311.57 74.85,315.10 75.04,318.05 75.24,312.94 75.43,307.41 75.62,314.23 75.82,311.37 76.01,313.08 76.20,309.62 76.39,309.85 76.59,312.63 76.78,316.29 76.97,311.04 77.16,311.67 77.36,309.28 77.55,313.15 77.74,321.14 77.93,311.43 78.13,311.00 78.32,312.59 78.51,312.12 78.70,308.48 78.90,312.30 79.09,311.71 79.28,313.38 79.47,311.93 79.67,312.75 79.86,304.41 80.05,310.01 80.24,313.36 80.44,308.06 80.63,310.90 80.82,309.11 81.01,313.44 81.21,309.60 81.40,316.50 81.59,310.57 81.78,308.90 81.98,317.38 82.17,305.58 82.36,312.98 82.55,308.49 82.75,309.08 82.94,310.62 83.13,310.80 83.33,309.97 83.52,311.00 83.71,307.62 83.90,310.46 84.10,310.57 84.29,310.22 84.48,308.81 84.67,308.78 84.87,315.35 85.06,309.67 85.25,310.88 85.44,318.32 85.64,309.29 85.83,309.98 86.02,309.32 86.21,317.96 86.41,313.62 86.60,309.68 86.79,312.71 86.98,308.62 87.18,313.48 87.37,308.49 87.56,312.35 87.75,320.82 87.95,309.97 88.14,312.42 88.33,309.48 88.52,313.20 88.72,309.32 88.91,312.08 89.10,307.91 89.29,313.04 89.49,317.87 89.68,309.56 89.87,307.13 90.06,309.81 90.26,312.27 90.45,311.52 90.64,312.60 90.84,314.91 91.03,306.08 91.22,312.11 91.41,310.54 91.61,308.07 91.80,310.40 91.99,309.33 92.18,311.65 92.38,310.60 92.57,310.53 92.76,308.18 92.95,313.09 93.15,311.13 93.34,310.36 93.53,309.63 93.72,312.70 93.92,311.62 94.11,304.18 94.30,308.91 94.49,305.92 94.69,311.96 94.88,311.22 95.07,320.29 95.26,313.42 95.46,310.59 95.65,315.18 95.84,308.63 96.03,309.31 96.23,315.44 96.42,310.25 96.61,310.49 96.80,315.54 97.00,309.55 97.19,318.50 97.38,310.20 97.57,313.47 97.77,311.95 97.96,312.54 98.15,309.45 98.34,309.39 98.54,315.52 98.73,307.24 98.92,313.32 99.12,319.64 99.31,313.63 99.50,314.58 99.69,315.59 99.89,313.67 100.08,309.14 100.27,309.17 100.46,309.19 100.66,308.93 100.85,316.08 101.04,306.31 101.23,309.78 101.43,307.99 101.62,313.95 101.81,307.02 102.00,308.16 102.20,312.57 102.39,310.27 102.58,311.59 102.77,311.62 102.97,319.50 103.16,311.19 103.35,311.81 103.54,310.20 103.74,311.43 103.93,309.76 104.12,310.00 104.31,311.38 104.51,320.30 104.70,312.03 104.89,310.88 105.08,309.46 105.28,306.23 105.47,307.47 105.66,307.78 105.85,309.67 106.05,307.18 106.24,310.45 106.43,307.01 106.63,310.77 106.82,314.90 107.01,309.06 107.20,309.99 107.40,309.85 107.59,310.55 107.78,305.50 107.97,311.02 108.17,309.46 108.36,309.81 108.55,313.29 108.74,321.26 108.94,317.31 109.13,308.62 109.32,314.19 109.51,323.76 109.71,310.22 109.90,309.87 110.09,312.50 110.28,310.98 110.48,310.93 110.67,311.83 110.86,310.92 111.05,309.64 111.25,312.14 111.44,310.81 111.63,311.53 111.82,313.23 112.02,310.74 112.21,305.58 112.40,310.13 112.59,309.59 112.79,309.90 112.98,314.83 113.17,318.95 113.36,313.92 113.56,305.80 113.75,309.82 113.94,310.53 114.14,311.01 114.33,309.82 114.52,314.13 114.71,312.96 114.91,310.84 115.10,311.99 115.29,312.38 115.48,309.50 115.68,314.49 115.87,308.00 116.06,310.71 116.25,309.08 116.45,309.40 116.64,314.79 116.83,308.65 117.02,310.06 117.22,310.81 117.41,308.84 117.60,311.51 117.79,310.95 117.99,309.80 118.18,310.68 118.37,308.40 118.56,311.82 118.76,310.45 118.95,311.14 119.14,311.45 119.33,312.12 119.53,311.81 119.72,311.76 119.91,309.41 120.10,311.26 120.30,309.08 120.49,309.18 120.68,311.04 120.87,308.86 121.07,310.16 121.26,310.17 121.45,311.12 121.65,305.86 121.84,312.54 122.03,312.24 122.22,311.28 122.42,312.65 122.61,312.25 122.80,310.53 122.99,312.46 123.19,310.94 123.38,314.37 123.57,311.75 123.76,311.88 123.96,306.06 124.15,310.49 124.34,310.31 124.53,309.33 124.73,310.21 124.92,309.93 125.11,310.09 125.30,310.00 125.50,309.63 125.69,313.11 125.88,312.86 126.07,311.00 126.27,313.38 126.46,310.28 126.65,313.19 126.84,310.72 127.04,310.92 127.23,314.73 127.42,310.76 127.61,310.17 127.81,313.80 128.00,312.40 128.19,310.33 128.38,312.28 128.58,309.62 128.77,310.16 128.96,313.58 129.15,310.32 129.35,309.69 129.54,311.35 129.73,311.12 129.93,309.31 130.12,313.07 130.31,313.59 130.50,311.72 130.70,313.96 130.89,310.76 131.08,309.14 131.27,310.83 131.47,311.81 131.66,310.00 131.85,308.89 132.04,311.47 132.24,309.75 132.43,309.82 132.62,309.32 132.81,311.15 133.01,309.61 133.20,310.85 133.39,310.27 133.58,309.82 133.78,311.44 133.97,310.86 134.16,309.16 134.35,314.29 134.55,310.24 134.74,309.95 134.93,310.52 135.12,310.09 135.32,313.18 135.51,307.71 135.70,313.98 135.89,311.82 136.09,312.89 136.28,312.14 136.47,312.32 136.66,310.80 136.86,314.75 137.05,311.60 137.24,310.33 137.44,310.35 137.63,308.60 137.82,309.60 138.01,310.67 138.21,315.65 138.40,311.04 138.59,311.83 138.78,308.88 138.98,309.43 139.17,311.84 139.36,315.20 139.55,309.70 139.75,311.10 139.94,308.46 140.13,310.15 140.32,309.27 140.52,311.95 140.71,309.65 140.90,311.11 141.09,312.07 141.29,309.79 141.48,310.00 141.67,311.63 141.86,310.38 142.06,309.99 142.25,311.13 142.44,307.56 142.63,311.11 142.83,310.61 143.02,311.24 143.21,310.25 143.40,310.80 143.60,310.57 143.79,310.01 143.98,308.12 144.17,310.13 144.37,310.12 144.56,310.37 144.75,310.12 144.95,310.24 145.14,310.97 145.33,310.68 145.52,309.88 145.72,310.94 145.91,309.01 146.10,310.79 146.29,309.68 146.49,310.11 146.68,310.13 146.87,310.71 147.06,311.60 147.26,311.11 147.45,308.92 147.64,311.31 147.83,308.11 148.03,311.46 148.22,312.70 148.41,309.98 148.60,309.97 148.80,309.74 148.99,311.50 149.18,310.42 149.37,313.02 149.57,311.25 149.76,310.23 149.95,310.80 150.14,309.48 150.34,310.68 150.53,310.51 150.72,310.86 150.91,312.32 151.11,311.03 151.30,311.82 151.49,310.29 151.68,309.72 151.88,310.84 152.07,310.15 152.26,309.66 152.46,310.81 152.65,309.67 152.84,310.50 153.03,311.36 153.23,310.13 153.42,310.82 153.61,311.07 153.80,310.83 154.00,311.95 154.19,310.33 154.38,310.17 154.57,310.41 154.77,311.56 154.96,313.72 155.15,310.50 155.34,310.80 155.54,311.00 155.73,310.87 155.92,310.06 156.11,311.26 156.31,312.53 156.50,310.66 156.69,310.32 156.88,311.05 157.08,311.67 157.27,310.78 157.46,310.38 157.65,311.46 157.85,310.88 158.04,310.31 158.23,311.03 158.42,311.19 158.62,309.64 158.81,310.34 159.00,310.22 159.19,311.36 159.39,309.87 159.58,311.77 159.77,311.12 159.96,310.39 160.16,310.05 160.32,265.75 160.59,362.17 160.85,290.65 161.12,335.72 161.39,293.03 161.65,329.79 161.92,297.77 162.19,322.68 162.45,301.33 162.72,316.75 162.99,304.89 163.25,314.37 163.52,306.07 163.79,312.00 164.05,307.26 164.32,310.82 164.59,307.85 164.85,310.22 165.12,308.44 165.39,310.22 165.58,309.94 165.77,309.24 165.96,310.75 166.16,308.98 166.35,309.06 166.54,309.64 166.73,309.12 166.93,309.02 167.12,309.26 167.31,309.18 167.50,308.82 167.70,309.56 167.89,309.34 168.08,309.55 168.27,309.11 168.47,309.50 168.66,309.28 168.85,309.36 169.05,309.38 169.24,309.07 169.43,309.41 169.62,309.17 169.82,309.27 170.01,309.21 170.20,309.41 170.39,309.28 170.59,309.31 170.78,309.45 170.97,309.37 171.16,309.40 171.36,309.40 171.55,308.95 171.74,309.64 171.93,309.97 172.13,309.99 172.32,309.55 172.51,309.61 172.70,309.39 172.90,309.20 173.09,308.79 173.28,309.29 173.47,309.23 173.67,309.65 173.86,309.19 174.05,308.93 174.24,308.93 174.44,310.06 174.63,309.09 174.82,308.85 175.01,309.11 175.21,309.91 175.40,309.50 175.59,309.19 175.78,309.25 175.98,309.67 176.17,309.70 176.36,309.06 176.55,309.85 176.75,308.90 176.94,309.39 177.13,309.29 177.33,309.85 177.52,309.60 177.71,309.16 177.90,309.90 178.10,308.68 178.29,309.87 178.48,309.81 178.67,309.38 178.87,309.23 179.06,309.14 179.25,309.52 179.44,309.46 179.64,309.47 179.83,309.59 180.02,310.27 180.21,309.06 180.41,309.31 180.60,309.34 180.79,309.61 180.98,309.31 181.18,309.40 181.37,309.42 181.56,309.01 181.75,309.98 181.95,309.31 182.14,309.76 182.33,309.50 182.52,308.88 182.72,309.76 182.91,309.43 183.10,309.59 183.29,309.07 183.49,309.73 183.68,309.97 183.87,309.22 184.06,309.51 184.26,309.50 184.45,309.02 184.64,309.70 184.84,309.52 185.03,309.34 185.22,309.25 185.41,309.57 185.61,309.04 185.80,308.63 185.99,309.53 186.18,308.75 186.38,310.11 186.57,308.91 186.76,309.51 186.95,309.35 187.15,309.51 187.34,309.61 187.53,309.83 187.72,309.53 187.92,308.95 188.11,309.00 188.30,309.51 188.49,309.57 188.69,309.63 188.88,309.80 189.07,308.78 189.26,309.17 189.46,309.35 189.65,309.56 189.84,309.74 190.03,308.94 190.23,309.13 190.42,309.72 190.61,309.05 190.80,309.77 191.00,309.17 191.19,309.72 191.38,309.53 191.57,309.22 191.77,309.25 191.96,309.05 192.15,309.68 192.35,308.85 192.54,308.93 192.73,309.40 192.92,309.23 193.12,309.66 193.31,309.44 193.50,309.84 193.69,309.36 193.89,309.32 194.08,308.93 194.27,309.07 194.46,309.11 194.66,309.52 194.85,309.47 195.04,309.51 195.23,309.32 195.43,310.05 195.62,309.13 195.81,309.93 196.00,309.57 196.20,309.39 196.39,309.57 196.58,308.82 196.77,309.43 196.97,308.86 197.16,308.99 197.35,309.56 197.54,309.26 197.74,308.95 197.93,309.51 198.12,309.36 198.31,309.58 198.51,309.37 198.70,309.51 198.89,309.36 199.08,309.05 199.28,308.92 199.47,309.35 199.66,309.32 199.86,309.10 200.05,309.49 200.24,309.75 200.43,309.01 200.63,309.71 200.82,309.07 201.01,309.72 201.20,308.77 201.40,309.75 201.59,309.10 201.78,308.88 201.97,309.72 202.17,308.89 202.36,309.67 202.55,310.00 202.74,309.15 202.94,309.15 203.13,309.46 203.32,310.26 203.51,309.41 203.71,309.50 203.90,309.52 204.09,309.49 204.28,310.00 204.48,309.59 204.67,308.78 204.86,308.86 205.05,309.52 205.25,309.64 205.44,309.26 205.63,309.03 205.82,309.15 206.02,309.79 206.21,309.34 206.40,309.34 206.59,308.90 206.79,308.98 206.98,309.21 207.17,308.98 207.36,309.53 207.56,308.87 207.75,309.54 207.94,309.26 208.14,309.08 208.33,309.70 208.52,309.63 208.71,309.99 208.91,309.34 209.10,309.41 209.29,309.50 209.48,309.22 209.68,310.12 209.87,309.40 210.06,309.36 210.25,309.48 210.45,309.12 210.64,308.79 210.83,309.55 211.02,309.71 211.22,309.60 211.41,309.36 211.60,309.19 211.79,309.69 211.99,309.05 212.18,309.74 212.37,309.11 212.56,309.25 212.76,309.23 212.95,308.66 213.14,309.48 213.33,309.45 213.53,309.23 213.72,309.10 213.91,309.85 214.10,309.30 214.30,309.65 214.49,309.18 214.68,308.93 214.87,309.38 215.07,309.43 215.26,309.33 215.45,310.40 215.65,309.13 215.84,309.20 216.03,309.34 216.22,309.53 216.42,309.64 216.61,309.45 216.80,308.98 216.99,309.43 217.19,308.93 217.38,310.27 217.57,309.55 217.76,309.30 217.96,309.40 218.15,309.96 218.34,309.62 218.53,308.97 218.73,309.83 218.92,309.73 219.11,309.77 219.30,309.58 219.50,309.17 219.69,309.19 219.88,310.09 220.07,308.89 220.27,309.60 220.46,309.59 220.65,308.82 220.84,309.42 221.04,309.82 221.23,309.61 221.42,309.64 221.61,309.74 221.81,309.51 222.00,309.09 222.19,309.27 222.38,309.86 222.58,308.44 222.77,309.73 222.96,309.35 223.16,309.38 223.35,309.13 223.54,309.50 223.73,309.24 223.93,308.67 224.12,309.36 224.31,309.76 224.50,309.28 224.70,309.67 224.89,309.52 225.08,309.33 225.27,309.28 225.47,309.49 225.66,309.10 225.85,309.46 226.04,309.84 226.24,309.09 226.43,309.52 226.62,308.98 226.81,309.62 227.01,309.20 227.20,309.29 227.39,310.31 227.58,309.90 227.78,309.78 227.97,308.91 228.16,310.04 228.35,309.08 228.55,309.02 228.74,309.22 228.93,309.16 229.12,309.56 229.32,309.40 229.51,309.32 229.70,309.25 229.89,309.15 230.09,309.46 230.28,309.63 230.47,309.58 230.67,309.25 230.86,309.96 231.05,309.82 231.24,309.53 231.44,309.58 231.63,309.49 231.82,310.30 232.01,309.51 232.21,309.48 232.40,309.13 232.59,310.07 232.78,309.50 232.98,309.23 233.17,309.23 233.36,308.98 233.55,309.03 233.75,309.75 233.94,309.18 234.13,309.51 234.32,309.67 234.52,308.87 234.71,309.61 234.90,309.68 235.09,309.53 235.29,309.68 235.48,309.05 235.67,309.26 235.86,308.91 236.06,309.25 236.25,309.60 236.44,309.03 236.63,309.62 236.83,309.55 237.02,309.45 237.21,309.38 237.40,308.98 237.60,309.60 237.79,309.27 237.98,309.40 238.18,309.82 238.37,309.77 238.56,309.47 238.75,309.25 238.95,309.28 239.14,309.23 239.33,309.38 239.52,309.55 239.72,309.25 239.91,309.74 240.10,309.85 240.29,309.51 240.49,309.88 240.68,309.57 240.87,309.65 241.06,309.58 241.26,309.41 241.45,309.67 241.64,309.54 241.83,309.98 242.03,309.34 242.22,309.69 242.41,309.25 242.60,310.36 242.80,309.67 242.99,309.31 243.18,310.23 243.37,309.52 243.57,309.36 243.76,309.36 243.95,309.91 244.14,309.31 244.34,309.34 244.53,309.73 244.72,309.14 244.91,309.41 245.11,309.39 245.30,309.55 245.49,309.20 245.68,309.36 245.88,309.00 246.07,309.24 246.26,309.60 246.46,309.47 246.65,309.08 246.84,309.52 247.03,309.26 247.23,309.21 247.42,309.45 247.61,310.19 247.80,309.35 248.00,309.32 248.19,309.35 248.38,309.65 248.57,308.98 248.77,309.44 248.96,309.61 249.15,309.64 249.34,309.27 249.54,309.77 249.73,309.74 249.92,308.70 250.11,308.94 250.31,309.03 250.50,308.92 250.69,309.19 250.88,309.97 251.08,308.98 251.27,308.97 251.46,309.22 251.65,310.07 251.85,308.96 252.04,308.92 252.23,309.56 252.42,309.35 252.62,309.13 252.81,309.42 253.00,309.01 253.19,309.36 253.39,309.15 253.58,309.36 253.77,309.90 253.97,309.74 254.16,308.30 254.35,309.30 254.54,308.94 254.74,309.00 254.93,308.80 255.12,309.20 255.31,309.60 255.51,309.39 255.70,310.05 255.89,309.46 256.08,309.08 256.28,310.14 256.47,309.32 256.66,309.11 256.85,308.93 257.05,309.71 257.24,309.62 257.43,310.04 257.62,309.74 257.82,309.21 258.01,308.68 258.20,309.79 258.39,308.92 258.59,309.25 258.78,309.56 258.97,308.64 259.16,310.26 259.36,309.42 259.55,309.32 259.74,308.66 259.93,308.77 260.13,308.61 260.32,309.35 260.51,309.05 260.70,308.92 260.90,309.22 261.09,309.27 261.28,309.46 261.48,309.53 261.67,309.82 261.86,308.72 262.05,309.55 262.25,310.11 262.44,309.30 262.63,309.40 262.82,309.33 263.02,308.77 263.21,309.43 263.40,309.48 263.59,309.65 263.79,309.40 263.98,309.54 264.17,309.32 264.36,308.31 264.56,309.26 264.75,309.69 264.94,308.73 265.13,309.09 265.33,309.11 265.52,309.15 265.71,309.11 265.90,309.16 266.10,308.90 266.29,309.04 266.48,308.93 266.67,309.57 266.87,309.39 267.06,309.65 267.25,309.06 267.44,309.11 267.64,309.55" fill="none" stroke="#ff3038" stroke-width="0.85" stroke-linejoin="round"/>
<rect x="155.6" y="263.9" width="13.9" height="98.2" fill="none" stroke="#484848" stroke-width="0.9"/>
<line x1="129.5" y1="275.7" x2="155.5" y2="290" stroke="#484848" stroke-width="0.8"/>
<rect x="72.2" y="259.5" width="57.6" height="36" fill="#fff" stroke="#484848" stroke-width="0.9"/>
<path d="M72.30,276.00C73.02,276.00 75.78,275.75 76.60,276.00C77.42,276.25 76.87,274.68 77.20,277.50C77.53,280.32 78.13,293.15 78.60,292.90C79.07,292.65 79.52,281.22 80.00,276.00C80.48,270.78 81.07,261.93 81.50,261.60C81.93,261.27 82.27,270.18 82.60,274.00C82.93,277.82 83.15,284.08 83.50,284.50C83.85,284.92 84.28,278.98 84.70,276.50C85.12,274.02 85.33,269.77 86.00,269.60C86.67,269.43 87.78,273.58 88.70,275.50C89.62,277.42 90.58,280.85 91.50,281.10C92.42,281.35 93.32,278.33 94.20,277.00C95.08,275.67 95.88,273.28 96.80,273.10C97.72,272.92 98.75,275.00 99.70,275.90C100.65,276.80 101.62,278.42 102.50,278.50C103.38,278.58 104.15,277.10 105.00,276.40C105.85,275.70 106.68,274.37 107.60,274.30C108.52,274.23 109.53,275.43 110.50,276.00C111.47,276.57 112.45,277.63 113.40,277.70C114.35,277.77 115.27,276.83 116.20,276.40C117.13,275.97 118.10,275.18 119.00,275.10C119.90,275.02 120.73,275.65 121.60,275.90C122.47,276.15 123.30,276.57 124.20,276.60C125.10,276.63 126.07,276.27 127.00,276.10C127.93,275.93 129.33,275.68 129.80,275.60" fill="none" stroke="#ff3038" stroke-width="0.85" stroke-linejoin="round"/>
<line x1="72.2" y1="276" x2="129.8" y2="276" stroke="#38ee48" stroke-width="1" stroke-dasharray="1.6,1.8"/>
<rect x="209.5" y="245.6" width="56.80" height="19.80" fill="#fff" stroke="#484848" stroke-width="0.8"/>
<line x1="210.4" y1="251.2" x2="216.6" y2="251.2" stroke="#ff3038" stroke-width="1"/>
<line x1="210.4" y1="260.8" x2="216.6" y2="260.8" stroke="#38ee48" stroke-width="1.1" stroke-dasharray="1.2,1.6"/>
<text x="217.50" y="253.97" font-family='"Liberation Sans", Arial, sans-serif' font-size="7.5" text-anchor="start" fill="#202020" textLength="44.8" lengthAdjust="spacingAndGlyphs">Variable COF</text>
<text x="217.50" y="263.57" font-family='"Liberation Sans", Arial, sans-serif' font-size="7.5" text-anchor="start" fill="#202020" textLength="47.3" lengthAdjust="spacingAndGlyphs">Constant COF</text>
<text x="30.80" y="374.00" font-family='"Liberation Sans", Arial, sans-serif' font-size="8.6" text-anchor="middle" fill="#262626" >2</text>
<text x="60.42" y="374.00" font-family='"Liberation Sans", Arial, sans-serif' font-size="8.6" text-anchor="middle" fill="#262626" >3</text>
<text x="90.05" y="374.00" font-family='"Liberation Sans", Arial, sans-serif' font-size="8.6" text-anchor="middle" fill="#262626" >4</text>
<text x="119.67" y="374.00" font-family='"Liberation Sans", Arial, sans-serif' font-size="8.6" text-anchor="middle" fill="#262626" >5</text>
<text x="149.30" y="374.00" font-family='"Liberation Sans", Arial, sans-serif' font-size="8.6" text-anchor="middle" fill="#262626" >6</text>
<text x="178.93" y="374.00" font-family='"Liberation Sans", Arial, sans-serif' font-size="8.6" text-anchor="middle" fill="#262626" >7</text>
<text x="208.55" y="374.00" font-family='"Liberation Sans", Arial, sans-serif' font-size="8.6" text-anchor="middle" fill="#262626" >8</text>
<text x="238.18" y="374.00" font-family='"Liberation Sans", Arial, sans-serif' font-size="8.6" text-anchor="middle" fill="#262626" >9</text>
<text x="267.80" y="374.00" font-family='"Liberation Sans", Arial, sans-serif' font-size="8.6" text-anchor="middle" fill="#262626" >10</text>
<text x="28.60" y="247.40" font-family='"Liberation Sans", Arial, sans-serif' font-size="8.6" text-anchor="end" fill="#262626" >60</text>
<text x="28.60" y="271.12" font-family='"Liberation Sans", Arial, sans-serif' font-size="8.6" text-anchor="end" fill="#262626" >40</text>
<text x="28.60" y="294.84" font-family='"Liberation Sans", Arial, sans-serif' font-size="8.6" text-anchor="end" fill="#262626" >20</text>
<text x="28.60" y="318.56" font-family='"Liberation Sans", Arial, sans-serif' font-size="8.6" text-anchor="end" fill="#262626" >0</text>
<text x="28.60" y="342.28" font-family='"Liberation Sans", Arial, sans-serif' font-size="8.6" text-anchor="end" fill="#262626" >-20</text>
<text x="28.60" y="366.00" font-family='"Liberation Sans", Arial, sans-serif' font-size="8.6" text-anchor="end" fill="#262626" >-40</text>
<text x="149.00" y="385.60" font-family='"Liberation Sans", Arial, sans-serif' font-size="9.1" text-anchor="middle" fill="#262626" >Time / s</text>
<text transform="translate(13.60,304.00) rotate(-90)" font-family='"Liberation Sans", Arial, sans-serif' font-size="9.2" text-anchor="middle" fill="#262626" textLength="126" lengthAdjust="spacingAndGlyphs">Gear walk acceleration / (m/s²)</text>
<defs><linearGradient id="h1t" x1="0" x2="1" y1="0" y2="0"><stop offset="0.0000" stop-color="#0004a8"/><stop offset="0.0283" stop-color="#0004a8"/><stop offset="0.0377" stop-color="#0008c0"/><stop offset="0.0583" stop-color="#0008c0"/><stop offset="0.0640" stop-color="#0020e8"/><stop offset="0.0762" stop-color="#0020e8"/><stop offset="0.0818" stop-color="#0008b8"/><stop offset="0.0903" stop-color="#0008b8"/><stop offset="0.0959" stop-color="#000098"/><stop offset="0.1223" stop-color="#000098"/><stop offset="0.1270" stop-color="#0018e0"/><stop offset="0.1335" stop-color="#0018e0"/><stop offset="0.1382" stop-color="#0008c0"/><stop offset="0.1693" stop-color="#0008c0"/><stop offset="0.1749" stop-color="#0028f0"/><stop offset="0.1852" stop-color="#0028f0"/><stop offset="0.1900" stop-color="#0000a4"/><stop offset="0.2116" stop-color="#0000a4"/><stop offset="0.2182" stop-color="#0038ff"/><stop offset="0.2351" stop-color="#0038ff"/><stop offset="0.2417" stop-color="#0010c8"/><stop offset="0.2558" stop-color="#0010c8"/><stop offset="0.2614" stop-color="#0008bc"/><stop offset="0.2670" stop-color="#0018d8"/><stop offset="0.2764" stop-color="#0018d8"/><stop offset="0.2821" stop-color="#0008bc"/><stop offset="0.3009" stop-color="#0008bc"/><stop offset="0.3075" stop-color="#0038ff"/><stop offset="0.3244" stop-color="#0038ff"/><stop offset="0.3310" stop-color="#0010c8"/><stop offset="0.3582" stop-color="#0010c8"/><stop offset="0.3639" stop-color="#0004b0"/><stop offset="0.3770" stop-color="#0004b0"/><stop offset="0.3827" stop-color="#0010c8"/><stop offset="0.3911" stop-color="#0010c8"/><stop offset="0.3958" stop-color="#0030f8"/><stop offset="0.4062" stop-color="#0030f8"/><stop offset="0.4109" stop-color="#0010cc"/><stop offset="0.4616" stop-color="#0010cc"/><stop offset="0.4663" stop-color="#0030f8"/><stop offset="0.4804" stop-color="#0030f8"/><stop offset="0.4861" stop-color="#0010c8"/><stop offset="0.4992" stop-color="#0010c8"/><stop offset="0.5039" stop-color="#000098"/><stop offset="0.5481" stop-color="#000098"/><stop offset="0.5575" stop-color="#0028d8"/><stop offset="0.5726" stop-color="#00009c"/><stop offset="0.8819" stop-color="#00009c"/><stop offset="0.8960" stop-color="#0000b0"/><stop offset="0.9101" stop-color="#00009c"/><stop offset="1.0000" stop-color="#00009c"/></linearGradient><linearGradient id="h1b" x1="0" x2="1" y1="0" y2="0"><stop offset="0.0000" stop-color="#88ff78"/><stop offset="0.0264" stop-color="#80ff80"/><stop offset="0.0301" stop-color="#60f8c0"/><stop offset="0.0339" stop-color="#20e0ff"/><stop offset="0.0424" stop-color="#20d4ff"/><stop offset="0.0452" stop-color="#1060ff"/><stop offset="0.0574" stop-color="#1068ff"/><stop offset="0.0640" stop-color="#10a0ff"/><stop offset="0.0771" stop-color="#14b8ff"/><stop offset="0.0884" stop-color="#18c8ff"/><stop offset="0.1260" stop-color="#18d0ff"/><stop offset="0.1636" stop-color="#18ccff"/><stop offset="0.1711" stop-color="#14bcff"/><stop offset="0.1843" stop-color="#14bcff"/><stop offset="0.1918" stop-color="#18ccff"/><stop offset="0.2435" stop-color="#18ccff"/><stop offset="0.2511" stop-color="#13b6ff"/><stop offset="0.2642" stop-color="#13b6ff"/><stop offset="0.2717" stop-color="#18c8ff"/><stop offset="0.3009" stop-color="#18c8ff"/><stop offset="0.3075" stop-color="#14bcff"/><stop offset="0.3206" stop-color="#14bcff"/><stop offset="0.3281" stop-color="#18d0ff"/><stop offset="0.3611" stop-color="#1cd8ff"/><stop offset="0.3893" stop-color="#20e8ff"/><stop offset="0.4269" stop-color="#24f0f8"/><stop offset="0.4645" stop-color="#28f8f0"/><stop offset="0.4917" stop-color="#34fcd8"/><stop offset="0.5199" stop-color="#40ffc8"/><stop offset="0.5387" stop-color="#58ffa8"/><stop offset="0.5500" stop-color="#20e0ff"/><stop offset="0.5594" stop-color="#28f0f0"/><stop offset="0.5763" stop-color="#30ffd8"/><stop offset="0.6139" stop-color="#40ffc8"/><stop offset="0.6797" stop-color="#44ffc4"/><stop offset="0.6939" stop-color="#54ffb4"/><stop offset="0.7127" stop-color="#44ffc4"/><stop offset="0.8020" stop-color="#40ffc4"/><stop offset="0.8208" stop-color="#50ffb4"/><stop offset="0.8678" stop-color="#50ffb4"/><stop offset="0.8960" stop-color="#48ffbc"/><stop offset="1.0000" stop-color="#48ffbc"/></linearGradient></defs>
<rect x="322.9" y="180.9" width="193.39999999999998" height="61.0" fill="url(#h1t)"/>
<rect x="322.9" y="241.9" width="193.39999999999998" height="39.49999999999997" fill="url(#h1b)"/>
<rect x="328.70" y="180.9" width="1.30" height="61.0" fill="#ffc800"/>
<rect x="427.50" y="180.9" width="1.40" height="61.0" fill="#980000"/>
<rect x="428.90" y="180.9" width="1.30" height="61.0" fill="#28c0ff"/>
<rect x="328.70" y="241.9" width="1.30" height="39.49999999999997" fill="#4c94b4"/>
<rect x="427.50" y="241.9" width="1.40" height="39.49999999999997" fill="#b07848"/>
<rect x="428.90" y="241.9" width="1.10" height="39.49999999999997" fill="#70a8a8"/>
<defs><linearGradient id="h2t" x1="0" x2="1" y1="0" y2="0"><stop offset="0.0000" stop-color="#00009c"/><stop offset="0.0367" stop-color="#00009c"/><stop offset="0.0461" stop-color="#0000ac"/><stop offset="0.0583" stop-color="#00009c"/><stop offset="0.0818" stop-color="#000098"/><stop offset="0.0884" stop-color="#0060ff"/><stop offset="0.0941" stop-color="#20d0ff"/><stop offset="0.1091" stop-color="#20d8ff"/><stop offset="0.1147" stop-color="#0050ff"/><stop offset="0.1223" stop-color="#0000a4"/><stop offset="0.1401" stop-color="#0000a4"/><stop offset="0.1561" stop-color="#0008b8"/><stop offset="0.1730" stop-color="#0000a4"/><stop offset="0.2163" stop-color="#0000a8"/><stop offset="0.2219" stop-color="#0028f0"/><stop offset="0.2323" stop-color="#0028f0"/><stop offset="0.2370" stop-color="#0000b0"/><stop offset="0.2426" stop-color="#0008b8"/><stop offset="0.2464" stop-color="#0050ff"/><stop offset="0.2558" stop-color="#0050ff"/><stop offset="0.2605" stop-color="#0000b0"/><stop offset="0.2708" stop-color="#0000b0"/><stop offset="0.2727" stop-color="#0040ff"/><stop offset="0.2774" stop-color="#0040ff"/><stop offset="0.2793" stop-color="#0004b0"/><stop offset="0.3028" stop-color="#0004b0"/><stop offset="0.3140" stop-color="#0010c8"/><stop offset="0.3253" stop-color="#0004b0"/><stop offset="0.3582" stop-color="#0004b0"/><stop offset="0.3629" stop-color="#0030ff"/><stop offset="0.3780" stop-color="#0030ff"/><stop offset="0.3827" stop-color="#0000b0"/><stop offset="0.3883" stop-color="#0004b8"/><stop offset="0.3921" stop-color="#0028f0"/><stop offset="0.4024" stop-color="#0028f0"/><stop offset="0.4071" stop-color="#0008c0"/><stop offset="0.4250" stop-color="#0008c0"/><stop offset="0.4278" stop-color="#0038f8"/><stop offset="0.4344" stop-color="#0038f8"/><stop offset="0.4372" stop-color="#0010c8"/><stop offset="0.4532" stop-color="#0010c8"/><stop offset="0.4626" stop-color="#0024e0"/><stop offset="0.4739" stop-color="#0010c8"/><stop offset="0.4917" stop-color="#0030f0"/><stop offset="0.5039" stop-color="#0030f0"/><stop offset="0.5086" stop-color="#0010c0"/><stop offset="0.5557" stop-color="#0010c0"/><stop offset="0.5585" stop-color="#0060ff"/><stop offset="0.5651" stop-color="#0060ff"/><stop offset="0.5688" stop-color="#0000a0"/><stop offset="0.6356" stop-color="#0000a0"/><stop offset="0.6384" stop-color="#0050ff"/><stop offset="0.6450" stop-color="#0050ff"/><stop offset="0.6487" stop-color="#0018d8"/><stop offset="0.6845" stop-color="#0014d0"/><stop offset="0.7033" stop-color="#0008b8"/><stop offset="0.7117" stop-color="#0040f8"/><stop offset="0.7230" stop-color="#1868f8"/><stop offset="0.7324" stop-color="#1090ff"/><stop offset="0.7380" stop-color="#10c0ff"/><stop offset="0.7606" stop-color="#20d8ff"/><stop offset="0.7662" stop-color="#0060ff"/><stop offset="0.7766" stop-color="#0050f8"/><stop offset="0.7794" stop-color="#0078ff"/><stop offset="0.7860" stop-color="#0078ff"/><stop offset="0.7897" stop-color="#0008b0"/><stop offset="0.8518" stop-color="#0008b0"/><stop offset="0.8546" stop-color="#0070ff"/><stop offset="0.8612" stop-color="#0070ff"/><stop offset="0.8650" stop-color="#0020e0"/><stop offset="0.8772" stop-color="#0040ff"/><stop offset="0.9223" stop-color="#0050ff"/><stop offset="0.9251" stop-color="#0090ff"/><stop offset="0.9317" stop-color="#0090ff"/><stop offset="0.9345" stop-color="#0050f0"/><stop offset="0.9496" stop-color="#0058f0"/><stop offset="0.9533" stop-color="#80ff80"/><stop offset="0.9787" stop-color="#a0ff60"/><stop offset="0.9825" stop-color="#0060ff"/><stop offset="1.0000" stop-color="#0060ff"/></linearGradient><linearGradient id="h2b" x1="0" x2="1" y1="0" y2="0"><stop offset="0.0000" stop-color="#ff3800"/><stop offset="0.0132" stop-color="#ff4800"/><stop offset="0.0245" stop-color="#ff9000"/><stop offset="0.0320" stop-color="#d0f030"/><stop offset="0.0395" stop-color="#88ff78"/><stop offset="0.0527" stop-color="#78ff90"/><stop offset="0.0640" stop-color="#b0ff50"/><stop offset="0.0715" stop-color="#f0f010"/><stop offset="0.0781" stop-color="#ffc800"/><stop offset="0.0828" stop-color="#ffa000"/><stop offset="0.0884" stop-color="#ffc000"/><stop offset="0.0950" stop-color="#ffe000"/><stop offset="0.1025" stop-color="#ffb000"/><stop offset="0.1091" stop-color="#ff9800"/><stop offset="0.1185" stop-color="#ffb800"/><stop offset="0.1279" stop-color="#ffc400"/><stop offset="0.1373" stop-color="#ffa400"/><stop offset="0.1448" stop-color="#ffa800"/><stop offset="0.1542" stop-color="#f8e000"/><stop offset="0.1730" stop-color="#f4f400"/><stop offset="0.1918" stop-color="#f8e400"/><stop offset="0.2031" stop-color="#ffc000"/><stop offset="0.2135" stop-color="#ff9000"/><stop offset="0.2276" stop-color="#ff9400"/><stop offset="0.2351" stop-color="#ffc000"/><stop offset="0.2529" stop-color="#ffd000"/><stop offset="0.2717" stop-color="#ffc400"/><stop offset="0.2764" stop-color="#f08800"/><stop offset="0.2811" stop-color="#f08800"/><stop offset="0.2840" stop-color="#ffdc00"/><stop offset="0.3093" stop-color="#ffe400"/><stop offset="0.3310" stop-color="#ffd000"/><stop offset="0.3422" stop-color="#ffb000"/><stop offset="0.3498" stop-color="#ff9800"/><stop offset="0.3592" stop-color="#ff9c00"/><stop offset="0.3648" stop-color="#ffd000"/><stop offset="0.3799" stop-color="#ffd800"/><stop offset="0.3874" stop-color="#ffa800"/><stop offset="0.3958" stop-color="#ffa400"/><stop offset="0.4015" stop-color="#ffd000"/><stop offset="0.4250" stop-color="#ffd400"/><stop offset="0.4278" stop-color="#f89000"/><stop offset="0.4325" stop-color="#f89000"/><stop offset="0.4353" stop-color="#ffc800"/><stop offset="0.4551" stop-color="#ffd000"/><stop offset="0.4663" stop-color="#ffd800"/><stop offset="0.4833" stop-color="#ffc400"/><stop offset="0.4917" stop-color="#ffa400"/><stop offset="0.5030" stop-color="#ffa800"/><stop offset="0.5086" stop-color="#ffd000"/><stop offset="0.5510" stop-color="#ffd000"/><stop offset="0.5538" stop-color="#ffe030"/><stop offset="0.5585" stop-color="#ffe030"/><stop offset="0.5613" stop-color="#ffa800"/><stop offset="0.5707" stop-color="#ffac00"/><stop offset="0.5745" stop-color="#ffcc00"/><stop offset="0.6309" stop-color="#ffcc00"/><stop offset="0.6346" stop-color="#ffe840"/><stop offset="0.6421" stop-color="#ffe040"/><stop offset="0.6459" stop-color="#ffa400"/><stop offset="0.6591" stop-color="#ffa800"/><stop offset="0.6638" stop-color="#ffd000"/><stop offset="0.7098" stop-color="#ffd000"/><stop offset="0.7127" stop-color="#989040"/><stop offset="0.7221" stop-color="#a09038"/><stop offset="0.7249" stop-color="#ffac00"/><stop offset="0.7343" stop-color="#ffb400"/><stop offset="0.7390" stop-color="#ffd800"/><stop offset="0.7587" stop-color="#ffd800"/><stop offset="0.7606" stop-color="#ffe838"/><stop offset="0.7644" stop-color="#ffe838"/><stop offset="0.7672" stop-color="#ffc400"/><stop offset="0.7907" stop-color="#ffc000"/><stop offset="0.7954" stop-color="#ffd000"/><stop offset="0.8518" stop-color="#ffd000"/><stop offset="0.8546" stop-color="#ffe030"/><stop offset="0.8593" stop-color="#ffe030"/><stop offset="0.8621" stop-color="#ffc800"/><stop offset="0.8668" stop-color="#ffa000"/><stop offset="0.8772" stop-color="#ff9c00"/><stop offset="0.8809" stop-color="#ffcc00"/><stop offset="0.9270" stop-color="#ffcc00"/><stop offset="0.9298" stop-color="#ff9c00"/><stop offset="0.9345" stop-color="#e09020"/><stop offset="0.9383" stop-color="#c09030"/><stop offset="0.9505" stop-color="#c89430"/><stop offset="0.9543" stop-color="#ffb000"/><stop offset="0.9787" stop-color="#ffb400"/><stop offset="0.9825" stop-color="#ffd800"/><stop offset="1.0000" stop-color="#ffd800"/></linearGradient></defs>
<rect x="322.9" y="334.8" width="193.39999999999998" height="60.89999999999998" fill="url(#h2t)"/>
<rect x="322.9" y="395.7" width="193.39999999999998" height="39.30000000000001" fill="url(#h2b)"/>
<rect x="322.90" y="334.8" width="2.20" height="60.89999999999998" fill="#ff6800"/>
<rect x="325.10" y="334.8" width="1.00" height="60.89999999999998" fill="#20c8ff"/>
<defs><linearGradient id="jet" x1="0" x2="0" y1="1" y2="0"><stop offset="0" stop-color="#00008f"/><stop offset="0.125" stop-color="#0000ff"/><stop offset="0.375" stop-color="#00ffff"/><stop offset="0.625" stop-color="#ffff00"/><stop offset="0.875" stop-color="#ff0000"/><stop offset="1" stop-color="#800000"/></linearGradient></defs>
<rect x="519.9" y="180.9" width="3.1" height="100.49999999999997" fill="url(#jet)"/>
<rect x="519.9" y="334.8" width="3.1" height="100.19999999999999" fill="url(#jet)"/>
<path d="M322.90,281.4v-1.8M347.07,281.4v-1.8M371.25,281.4v-1.8M395.42,281.4v-1.8M419.60,281.4v-1.8M443.77,281.4v-1.8M467.95,281.4v-1.8M492.12,281.4v-1.8M516.30,281.4v-1.8" stroke="#484848" stroke-width="0.6"/>
<path d="M323.29999999999995,180.9V281.4" stroke="#303048" stroke-width="0.8" fill="none" opacity="0.75"/><path d="M322.9,281.4H516.3" stroke="#484848" stroke-width="0.5" fill="none" opacity="0.7"/>
<text x="322.90" y="290.00" font-family='"Liberation Sans", Arial, sans-serif' font-size="6.6" text-anchor="middle" fill="#262626" >2</text>
<text x="347.07" y="290.00" font-family='"Liberation Sans", Arial, sans-serif' font-size="6.6" text-anchor="middle" fill="#262626" >3</text>
<text x="371.25" y="290.00" font-family='"Liberation Sans", Arial, sans-serif' font-size="6.6" text-anchor="middle" fill="#262626" >4</text>
<text x="395.42" y="290.00" font-family='"Liberation Sans", Arial, sans-serif' font-size="6.6" text-anchor="middle" fill="#262626" >5</text>
<text x="419.60" y="290.00" font-family='"Liberation Sans", Arial, sans-serif' font-size="6.6" text-anchor="middle" fill="#262626" >6</text>
<text x="443.77" y="290.00" font-family='"Liberation Sans", Arial, sans-serif' font-size="6.6" text-anchor="middle" fill="#262626" >7</text>
<text x="467.95" y="290.00" font-family='"Liberation Sans", Arial, sans-serif' font-size="6.6" text-anchor="middle" fill="#262626" >8</text>
<text x="492.12" y="290.00" font-family='"Liberation Sans", Arial, sans-serif' font-size="6.6" text-anchor="middle" fill="#262626" >9</text>
<text x="516.30" y="290.00" font-family='"Liberation Sans", Arial, sans-serif' font-size="6.6" text-anchor="middle" fill="#262626" >10</text>
<text x="321.00" y="183.30" font-family='"Liberation Sans", Arial, sans-serif' font-size="6.6" text-anchor="end" fill="#262626" >50</text>
<text x="321.00" y="203.40" font-family='"Liberation Sans", Arial, sans-serif' font-size="6.6" text-anchor="end" fill="#262626" >40</text>
<text x="321.00" y="223.50" font-family='"Liberation Sans", Arial, sans-serif' font-size="6.6" text-anchor="end" fill="#262626" >30</text>
<text x="321.00" y="243.60" font-family='"Liberation Sans", Arial, sans-serif' font-size="6.6" text-anchor="end" fill="#262626" >20</text>
<text x="321.00" y="263.70" font-family='"Liberation Sans", Arial, sans-serif' font-size="6.6" text-anchor="end" fill="#262626" >10</text>
<text x="321.00" y="283.80" font-family='"Liberation Sans", Arial, sans-serif' font-size="6.6" text-anchor="end" fill="#262626" >0</text>
<text x="420.00" y="299.40" font-family='"Liberation Sans", Arial, sans-serif' font-size="7.5" text-anchor="middle" fill="#262626" >Time / s</text>
<text transform="translate(311.00,230.50) rotate(-90)" font-family='"Liberation Sans", Arial, sans-serif' font-size="8.1" text-anchor="middle" fill="#262626" >Frequency / Hz</text>
<text x="524.80" y="196.00" font-family='"Liberation Sans", Arial, sans-serif' font-size="6.4" text-anchor="start" fill="#262626" >35</text>
<text x="524.80" y="208.40" font-family='"Liberation Sans", Arial, sans-serif' font-size="6.4" text-anchor="start" fill="#262626" >30</text>
<text x="524.80" y="220.90" font-family='"Liberation Sans", Arial, sans-serif' font-size="6.4" text-anchor="start" fill="#262626" >25</text>
<text x="524.80" y="233.60" font-family='"Liberation Sans", Arial, sans-serif' font-size="6.4" text-anchor="start" fill="#262626" >20</text>
<text x="524.80" y="246.30" font-family='"Liberation Sans", Arial, sans-serif' font-size="6.4" text-anchor="start" fill="#262626" >15</text>
<text x="524.80" y="258.70" font-family='"Liberation Sans", Arial, sans-serif' font-size="6.4" text-anchor="start" fill="#262626" >10</text>
<text x="524.80" y="271.10" font-family='"Liberation Sans", Arial, sans-serif' font-size="6.4" text-anchor="start" fill="#262626" >5</text>
<text transform="translate(538.00,230.85) rotate(-90)" font-family='"Liberation Sans", Arial, sans-serif' font-size="6.4" text-anchor="middle" fill="#262626" textLength="116.5" lengthAdjust="spacingAndGlyphs">Gear walk acceleration amplitude / (m/s²)</text>
<path d="M322.90,435.0v-1.8M347.07,435.0v-1.8M371.25,435.0v-1.8M395.42,435.0v-1.8M419.60,435.0v-1.8M443.77,435.0v-1.8M467.95,435.0v-1.8M492.12,435.0v-1.8M516.30,435.0v-1.8" stroke="#484848" stroke-width="0.6"/>
<path d="M323.29999999999995,334.8V435.0" stroke="#303048" stroke-width="0.8" fill="none" opacity="0.75"/><path d="M322.9,435.0H516.3" stroke="#484848" stroke-width="0.5" fill="none" opacity="0.7"/>
<text x="322.90" y="444.20" font-family='"Liberation Sans", Arial, sans-serif' font-size="6.6" text-anchor="middle" fill="#262626" >2</text>
<text x="347.07" y="444.20" font-family='"Liberation Sans", Arial, sans-serif' font-size="6.6" text-anchor="middle" fill="#262626" >3</text>
<text x="371.25" y="444.20" font-family='"Liberation Sans", Arial, sans-serif' font-size="6.6" text-anchor="middle" fill="#262626" >4</text>
<text x="395.42" y="444.20" font-family='"Liberation Sans", Arial, sans-serif' font-size="6.6" text-anchor="middle" fill="#262626" >5</text>
<text x="419.60" y="444.20" font-family='"Liberation Sans", Arial, sans-serif' font-size="6.6" text-anchor="middle" fill="#262626" >6</text>
<text x="443.77" y="444.20" font-family='"Liberation Sans", Arial, sans-serif' font-size="6.6" text-anchor="middle" fill="#262626" >7</text>
<text x="467.95" y="444.20" font-family='"Liberation Sans", Arial, sans-serif' font-size="6.6" text-anchor="middle" fill="#262626" >8</text>
<text x="492.12" y="444.20" font-family='"Liberation Sans", Arial, sans-serif' font-size="6.6" text-anchor="middle" fill="#262626" >9</text>
<text x="516.30" y="444.20" font-family='"Liberation Sans", Arial, sans-serif' font-size="6.6" text-anchor="middle" fill="#262626" >10</text>
<text x="321.00" y="337.20" font-family='"Liberation Sans", Arial, sans-serif' font-size="6.6" text-anchor="end" fill="#262626" >50</text>
<text x="321.00" y="357.24" font-family='"Liberation Sans", Arial, sans-serif' font-size="6.6" text-anchor="end" fill="#262626" >40</text>
<text x="321.00" y="377.28" font-family='"Liberation Sans", Arial, sans-serif' font-size="6.6" text-anchor="end" fill="#262626" >30</text>
<text x="321.00" y="397.32" font-family='"Liberation Sans", Arial, sans-serif' font-size="6.6" text-anchor="end" fill="#262626" >20</text>
<text x="321.00" y="417.36" font-family='"Liberation Sans", Arial, sans-serif' font-size="6.6" text-anchor="end" fill="#262626" >10</text>
<text x="321.00" y="437.40" font-family='"Liberation Sans", Arial, sans-serif' font-size="6.6" text-anchor="end" fill="#262626" >0</text>
<text x="420.00" y="452.90" font-family='"Liberation Sans", Arial, sans-serif' font-size="7.5" text-anchor="middle" fill="#262626" >Time / s</text>
<text transform="translate(311.00,383.40) rotate(-90)" font-family='"Liberation Sans", Arial, sans-serif' font-size="8.1" text-anchor="middle" fill="#262626" >Freqency / Hz</text>
<text x="524.80" y="361.40" font-family='"Liberation Sans", Arial, sans-serif' font-size="6.4" text-anchor="start" fill="#262626" >15</text>
<text x="524.80" y="387.30" font-family='"Liberation Sans", Arial, sans-serif' font-size="6.4" text-anchor="start" fill="#262626" >10</text>
<text x="524.80" y="412.90" font-family='"Liberation Sans", Arial, sans-serif' font-size="6.4" text-anchor="start" fill="#262626" >5</text>
<text transform="translate(538.00,384.60) rotate(-90)" font-family='"Liberation Sans", Arial, sans-serif' font-size="6.4" text-anchor="middle" fill="#262626" textLength="116.5" lengthAdjust="spacingAndGlyphs">Gear walk acceleration amplitude / (m/s²)</text>
<text x="88.9" y="166.5" font-family='"Liberation Serif", "Times New Roman", serif' font-size="14" fill="#111" stroke="#111" stroke-width="0.18" textLength="97" lengthAdjust="spacing">(<tspan font-weight="bold">a</tspan>) Displacement</text>
<text x="397.9" y="166.1" font-family='"Liberation Serif", "Times New Roman", serif' font-size="14" fill="#111" stroke="#111" stroke-width="0.18" textLength="48.4" lengthAdjust="spacing">(<tspan font-weight="bold">b</tspan>) Load</text>
<text x="92.9" y="473.4" font-family='"Liberation Serif", "Times New Roman", serif' font-size="14" fill="#111" stroke="#111" stroke-width="0.18" textLength="88.4" lengthAdjust="spacing">(<tspan font-weight="bold">c</tspan>) Acceleration</text>
<text x="309" y="320" font-family='"Liberation Serif", "Times New Roman", serif' font-size="14" fill="#111" stroke="#111" stroke-width="0.18" textLength="227.5" lengthAdjust="spacing">(<tspan font-weight="bold">c1</tspan>) Spectrum diagram of Variable COF</text>
<text x="307.8" y="473.4" font-family='"Liberation Serif", "Times New Roman", serif' font-size="14" fill="#111" stroke="#111" stroke-width="0.18" textLength="228.5" lengthAdjust="spacing">(<tspan font-weight="bold">c2</tspan>) Spectrum diagram of Constant COF</text>
</svg>
</body></html>
